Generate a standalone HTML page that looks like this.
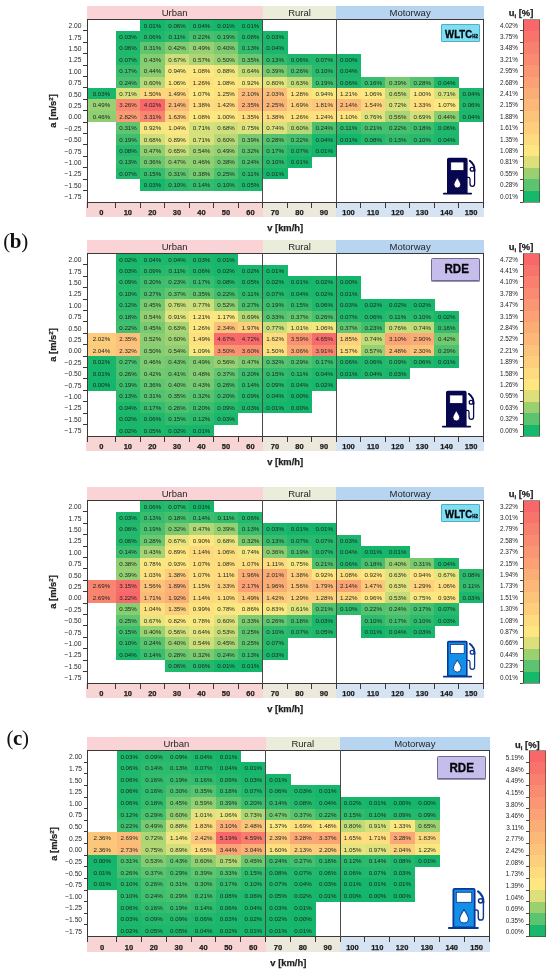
<!DOCTYPE html>
<html><head><meta charset="utf-8"><title>Figure</title><style>
html,body{margin:0;padding:0;background:#fff}
body{width:550px;height:975px;position:relative;overflow:hidden;font-family:"Liberation Sans",sans-serif;color:#2b2b2b}
.ch{position:absolute;left:0;width:550px;height:245px}
.ch div{position:absolute;box-sizing:border-box}
.hd{text-align:center;font-size:9.5px;color:#262626}
.c{text-align:center;font-size:6.2px;color:#1c241e;white-space:nowrap;overflow:hidden}
.ln{background:#3d3838}
.sep{background:#4c4a46}
.ln2{background:#5a4a3a}
.yl{width:31.5px;text-align:right;font-size:6.7px;line-height:9px;color:#262626}
.xl{-webkit-text-stroke:0.25px currentColor;width:30px;text-align:center;font-size:7.5px;font-weight:bold;line-height:9px;color:#1c1c1c}
.xt{-webkit-text-stroke:0.25px currentColor;width:80px;text-align:center;font-size:9.4px;font-weight:bold;line-height:12px;color:#222}
.yt{-webkit-text-stroke:0.25px currentColor;width:80px;height:12px;text-align:center;font-size:9.4px;font-weight:bold;line-height:12px;color:#222;transform:rotate(-90deg)}
.yt sup{font-size:6px;line-height:0;vertical-align:3.2px}
.lt{-webkit-text-stroke:0.25px currentColor;width:60px;text-align:center;font-size:9.4px;font-weight:bold;line-height:12px;color:#222}
.lt sub{font-size:6px;line-height:0;vertical-align:-1.5px}
.ll{width:30px;text-align:right;font-size:6.4px;line-height:8px;color:#262626}
.lb{border:1px solid rgba(70,55,30,.55);border-left-color:rgba(60,45,25,.75)}
.bw{background:#7fdff0;border:1px solid #52aec2;border-radius:1px;text-align:center;overflow:hidden}
.bt{display:inline-block;position:relative;top:-1.3px;left:-0.2px;font-weight:bold;font-size:11.4px;color:#05050c;-webkit-text-stroke:0.35px #05050c;transform:scaleX(.84);transform-origin:50% 50%;white-space:nowrap}
.bs{font-size:5.2px;vertical-align:-0.3px;margin-left:0.3px}
.br{background:#c6bdea;border:1px solid #6f6a94;border-radius:1.5px;text-align:center;box-shadow:0 1px 0 #9a94b8}
.bt2{display:inline-block;position:relative;top:-2.4px;left:0.8px;font-weight:bold;font-size:13px;color:#05050c;-webkit-text-stroke:0.35px #05050c;transform:scaleX(.89);white-space:nowrap}
.pm{position:absolute;overflow:visible}
.cap{position:absolute;letter-spacing:-0.35px;font-family:"Liberation Serif",serif;font-size:21px;line-height:22px;color:#111;white-space:nowrap}
.cap b{font-weight:bold}
</style></head><body>
<div class="ch" style="top:0px">
<div class="hd" style="left:86.50px;top:6.0px;width:176.22px;height:13.50px;line-height:14.10px;background:#f9d3d6">Urban</div>
<div class="hd" style="left:262.72px;top:6.0px;width:73.56px;height:13.50px;line-height:14.10px;background:#e9edda">Rural</div>
<div class="hd" style="left:336.28px;top:6.0px;width:147.62px;height:13.50px;line-height:14.10px;background:#b7d5f1">Motorway</div>
<div class="st" style="left:86.00px;top:202.00px;width:176.72px;height:15.20px;background:#f8d5d5"></div>
<div class="st" style="left:262.72px;top:202.00px;width:73.56px;height:15.20px;background:#ece8dc"></div>
<div class="st" style="left:336.28px;top:202.00px;width:147.62px;height:15.20px;background:#d6e3f2"></div>
<div class="grid">
<div class="c" style="left:140.12px;top:19.50px;width:24.82px;height:11.71px;line-height:12.01px;background:#14b66c">0.01%</div>
<div class="c" style="left:164.64px;top:19.50px;width:24.82px;height:11.71px;line-height:12.01px;background:#20b86d">0.06%</div>
<div class="c" style="left:189.16px;top:19.50px;width:24.82px;height:11.71px;line-height:12.01px;background:#1bb76c">0.04%</div>
<div class="c" style="left:213.68px;top:19.50px;width:24.82px;height:11.71px;line-height:12.01px;background:#14b66c">0.01%</div>
<div class="c" style="left:238.20px;top:19.50px;width:24.82px;height:11.71px;line-height:12.01px;background:#14b66c">0.01%</div>
<div class="c" style="left:115.60px;top:30.91px;width:24.82px;height:11.71px;line-height:12.01px;background:#19b76c">0.03%</div>
<div class="c" style="left:140.12px;top:30.91px;width:24.82px;height:11.71px;line-height:12.01px;background:#20b86d">0.06%</div>
<div class="c" style="left:164.64px;top:30.91px;width:24.82px;height:11.71px;line-height:12.01px;background:#2cbb6d">0.11%</div>
<div class="c" style="left:189.16px;top:30.91px;width:24.82px;height:11.71px;line-height:12.01px;background:#46c06e">0.22%</div>
<div class="c" style="left:213.68px;top:30.91px;width:24.82px;height:11.71px;line-height:12.01px;background:#3fbf6e">0.19%</div>
<div class="c" style="left:238.20px;top:30.91px;width:24.82px;height:11.71px;line-height:12.01px;background:#25b96d">0.08%</div>
<div class="c" style="left:262.72px;top:30.91px;width:24.82px;height:11.71px;line-height:12.01px;background:#19b76c">0.03%</div>
<div class="c" style="left:115.60px;top:42.31px;width:24.82px;height:11.71px;line-height:12.01px;background:#20b86d">0.06%</div>
<div class="c" style="left:140.12px;top:42.31px;width:24.82px;height:11.71px;line-height:12.01px;background:#5fc56f">0.31%</div>
<div class="c" style="left:164.64px;top:42.31px;width:24.82px;height:11.71px;line-height:12.01px;background:#82cc71">0.42%</div>
<div class="c" style="left:189.16px;top:42.31px;width:24.82px;height:11.71px;line-height:12.01px;background:#97d173">0.49%</div>
<div class="c" style="left:213.68px;top:42.31px;width:24.82px;height:11.71px;line-height:12.01px;background:#7ccb71">0.40%</div>
<div class="c" style="left:238.20px;top:42.31px;width:24.82px;height:11.71px;line-height:12.01px;background:#31bc6d">0.13%</div>
<div class="c" style="left:262.72px;top:42.31px;width:24.82px;height:11.71px;line-height:12.01px;background:#1bb76c">0.04%</div>
<div class="c" style="left:115.60px;top:53.72px;width:24.82px;height:11.71px;line-height:12.01px;background:#22b96d">0.07%</div>
<div class="c" style="left:140.12px;top:53.72px;width:24.82px;height:11.71px;line-height:12.01px;background:#85cd71">0.43%</div>
<div class="c" style="left:164.64px;top:53.72px;width:24.82px;height:11.71px;line-height:12.01px;background:#ccde7a">0.67%</div>
<div class="c" style="left:189.16px;top:53.72px;width:24.82px;height:11.71px;line-height:12.01px;background:#aed675">0.57%</div>
<div class="c" style="left:213.68px;top:53.72px;width:24.82px;height:11.71px;line-height:12.01px;background:#9ad173">0.50%</div>
<div class="c" style="left:238.20px;top:53.72px;width:24.82px;height:11.71px;line-height:12.01px;background:#6cc870">0.35%</div>
<div class="c" style="left:262.72px;top:53.72px;width:24.82px;height:11.71px;line-height:12.01px;background:#31bc6d">0.13%</div>
<div class="c" style="left:287.24px;top:53.72px;width:24.82px;height:11.71px;line-height:12.01px;background:#20b86d">0.06%</div>
<div class="c" style="left:311.76px;top:53.72px;width:24.82px;height:11.71px;line-height:12.01px;background:#22b96d">0.07%</div>
<div class="c" style="left:336.28px;top:53.72px;width:24.82px;height:11.71px;line-height:12.01px;background:#14b66c">0.00%</div>
<div class="c" style="left:115.60px;top:65.12px;width:24.82px;height:11.71px;line-height:12.01px;background:#3abe6e">0.17%</div>
<div class="c" style="left:140.12px;top:65.12px;width:24.82px;height:11.71px;line-height:12.01px;background:#89cd71">0.44%</div>
<div class="c" style="left:164.64px;top:65.12px;width:24.82px;height:11.71px;line-height:12.01px;background:#f7e882">0.94%</div>
<div class="c" style="left:189.16px;top:65.12px;width:24.82px;height:11.71px;line-height:12.01px;background:#fce781">1.08%</div>
<div class="c" style="left:213.68px;top:65.12px;width:24.82px;height:11.71px;line-height:12.01px;background:#efe680">0.88%</div>
<div class="c" style="left:238.20px;top:65.12px;width:24.82px;height:11.71px;line-height:12.01px;background:#c3dc78">0.64%</div>
<div class="c" style="left:262.72px;top:65.12px;width:24.82px;height:11.71px;line-height:12.01px;background:#79ca70">0.39%</div>
<div class="c" style="left:287.24px;top:65.12px;width:24.82px;height:11.71px;line-height:12.01px;background:#50c26f">0.26%</div>
<div class="c" style="left:311.76px;top:65.12px;width:24.82px;height:11.71px;line-height:12.01px;background:#2aba6d">0.10%</div>
<div class="c" style="left:336.28px;top:65.12px;width:24.82px;height:11.71px;line-height:12.01px;background:#1bb76c">0.04%</div>
<div class="c" style="left:115.60px;top:76.53px;width:24.82px;height:11.71px;line-height:12.01px;background:#4bc16f">0.24%</div>
<div class="c" style="left:140.12px;top:76.53px;width:24.82px;height:11.71px;line-height:12.01px;background:#b7d876">0.60%</div>
<div class="c" style="left:164.64px;top:76.53px;width:24.82px;height:11.71px;line-height:12.01px;background:#fce781">1.06%</div>
<div class="c" style="left:189.16px;top:76.53px;width:24.82px;height:11.71px;line-height:12.01px;background:#fee07f">1.26%</div>
<div class="c" style="left:213.68px;top:76.53px;width:24.82px;height:11.71px;line-height:12.01px;background:#fce781">1.08%</div>
<div class="c" style="left:238.20px;top:76.53px;width:24.82px;height:11.71px;line-height:12.01px;background:#f4e781">0.92%</div>
<div class="c" style="left:262.72px;top:76.53px;width:24.82px;height:11.71px;line-height:12.01px;background:#e3e47e">0.80%</div>
<div class="c" style="left:287.24px;top:76.53px;width:24.82px;height:11.71px;line-height:12.01px;background:#c0db78">0.63%</div>
<div class="c" style="left:311.76px;top:76.53px;width:24.82px;height:11.71px;line-height:12.01px;background:#3fbf6e">0.19%</div>
<div class="c" style="left:336.28px;top:76.53px;width:24.82px;height:11.71px;line-height:12.01px;background:#20b86d">0.06%</div>
<div class="c" style="left:360.80px;top:76.53px;width:24.82px;height:11.71px;line-height:12.01px;background:#38bd6e">0.16%</div>
<div class="c" style="left:385.32px;top:76.53px;width:24.82px;height:11.71px;line-height:12.01px;background:#79ca70">0.39%</div>
<div class="c" style="left:409.84px;top:76.53px;width:24.82px;height:11.71px;line-height:12.01px;background:#55c36f">0.28%</div>
<div class="c" style="left:434.36px;top:76.53px;width:24.82px;height:11.71px;line-height:12.01px;background:#1bb76c">0.04%</div>
<div class="c" style="left:87.00px;top:87.94px;width:28.90px;height:11.71px;line-height:12.01px;background:#19b76c">0.03%</div>
<div class="c" style="left:115.60px;top:87.94px;width:24.82px;height:11.71px;line-height:12.01px;background:#d7e17c">0.71%</div>
<div class="c" style="left:140.12px;top:87.94px;width:24.82px;height:11.71px;line-height:12.01px;background:#fdd67d">1.50%</div>
<div class="c" style="left:164.64px;top:87.94px;width:24.82px;height:11.71px;line-height:12.01px;background:#fdd67d">1.49%</div>
<div class="c" style="left:189.16px;top:87.94px;width:24.82px;height:11.71px;line-height:12.01px;background:#fce781">1.07%</div>
<div class="c" style="left:213.68px;top:87.94px;width:24.82px;height:11.71px;line-height:12.01px;background:#fee17f">1.25%</div>
<div class="c" style="left:238.20px;top:87.94px;width:24.82px;height:11.71px;line-height:12.01px;background:#fcbc79">2.10%</div>
<div class="c" style="left:262.72px;top:87.94px;width:24.82px;height:11.71px;line-height:12.01px;background:#fcbf79">2.03%</div>
<div class="c" style="left:287.24px;top:87.94px;width:24.82px;height:11.71px;line-height:12.01px;background:#fee07f">1.28%</div>
<div class="c" style="left:311.76px;top:87.94px;width:24.82px;height:11.71px;line-height:12.01px;background:#f7e882">0.94%</div>
<div class="c" style="left:336.28px;top:87.94px;width:24.82px;height:11.71px;line-height:12.01px;background:#fee37f">1.21%</div>
<div class="c" style="left:360.80px;top:87.94px;width:24.82px;height:11.71px;line-height:12.01px;background:#fce781">1.06%</div>
<div class="c" style="left:385.32px;top:87.94px;width:24.82px;height:11.71px;line-height:12.01px;background:#c6dc79">0.65%</div>
<div class="c" style="left:409.84px;top:87.94px;width:24.82px;height:11.71px;line-height:12.01px;background:#fae781">1.00%</div>
<div class="c" style="left:434.36px;top:87.94px;width:24.82px;height:11.71px;line-height:12.01px;background:#d7e17c">0.71%</div>
<div class="c" style="left:458.88px;top:87.94px;width:24.82px;height:11.71px;line-height:12.01px;background:#1bb76c">0.04%</div>
<div class="c" style="left:87.00px;top:99.34px;width:28.90px;height:11.71px;line-height:12.01px;background:#97d173">0.49%</div>
<div class="c" style="left:115.60px;top:99.34px;width:24.82px;height:11.71px;line-height:12.01px;background:#fa8971">3.26%</div>
<div class="c" style="left:140.12px;top:99.34px;width:24.82px;height:11.71px;line-height:12.01px;background:#f8686b">4.02%</div>
<div class="c" style="left:164.64px;top:99.34px;width:24.82px;height:11.71px;line-height:12.01px;background:#fcba79">2.14%</div>
<div class="c" style="left:189.16px;top:99.34px;width:24.82px;height:11.71px;line-height:12.01px;background:#fddb7e">1.38%</div>
<div class="c" style="left:213.68px;top:99.34px;width:24.82px;height:11.71px;line-height:12.01px;background:#fdd97e">1.42%</div>
<div class="c" style="left:238.20px;top:99.34px;width:24.82px;height:11.71px;line-height:12.01px;background:#fbb177">2.35%</div>
<div class="c" style="left:262.72px;top:99.34px;width:24.82px;height:11.71px;line-height:12.01px;background:#fcb578">2.25%</div>
<div class="c" style="left:287.24px;top:99.34px;width:24.82px;height:11.71px;line-height:12.01px;background:#fdce7c">1.69%</div>
<div class="c" style="left:311.76px;top:99.34px;width:24.82px;height:11.71px;line-height:12.01px;background:#fdc87b">1.81%</div>
<div class="c" style="left:336.28px;top:99.34px;width:24.82px;height:11.71px;line-height:12.01px;background:#fcba79">2.14%</div>
<div class="c" style="left:360.80px;top:99.34px;width:24.82px;height:11.71px;line-height:12.01px;background:#fdd47d">1.54%</div>
<div class="c" style="left:385.32px;top:99.34px;width:24.82px;height:11.71px;line-height:12.01px;background:#d8e17c">0.72%</div>
<div class="c" style="left:409.84px;top:99.34px;width:24.82px;height:11.71px;line-height:12.01px;background:#fedd7f">1.33%</div>
<div class="c" style="left:434.36px;top:99.34px;width:24.82px;height:11.71px;line-height:12.01px;background:#fce781">1.07%</div>
<div class="c" style="left:458.88px;top:99.34px;width:24.82px;height:11.71px;line-height:12.01px;background:#20b86d">0.06%</div>
<div class="c" style="left:87.00px;top:110.75px;width:28.90px;height:11.71px;line-height:12.01px;background:#8ecf72">0.46%</div>
<div class="c" style="left:115.60px;top:110.75px;width:24.82px;height:11.71px;line-height:12.01px;background:#fa9c74">2.82%</div>
<div class="c" style="left:140.12px;top:110.75px;width:24.82px;height:11.71px;line-height:12.01px;background:#f98770">3.31%</div>
<div class="c" style="left:164.64px;top:110.75px;width:24.82px;height:11.71px;line-height:12.01px;background:#fdd07c">1.63%</div>
<div class="c" style="left:189.16px;top:110.75px;width:24.82px;height:11.71px;line-height:12.01px;background:#fce781">1.08%</div>
<div class="c" style="left:213.68px;top:110.75px;width:24.82px;height:11.71px;line-height:12.01px;background:#fae781">1.00%</div>
<div class="c" style="left:238.20px;top:110.75px;width:24.82px;height:11.71px;line-height:12.01px;background:#fedd7e">1.35%</div>
<div class="c" style="left:262.72px;top:110.75px;width:24.82px;height:11.71px;line-height:12.01px;background:#fddb7e">1.38%</div>
<div class="c" style="left:287.24px;top:110.75px;width:24.82px;height:11.71px;line-height:12.01px;background:#fee07f">1.26%</div>
<div class="c" style="left:311.76px;top:110.75px;width:24.82px;height:11.71px;line-height:12.01px;background:#fee17f">1.24%</div>
<div class="c" style="left:336.28px;top:110.75px;width:24.82px;height:11.71px;line-height:12.01px;background:#fde680">1.10%</div>
<div class="c" style="left:360.80px;top:110.75px;width:24.82px;height:11.71px;line-height:12.01px;background:#dee37d">0.76%</div>
<div class="c" style="left:385.32px;top:110.75px;width:24.82px;height:11.71px;line-height:12.01px;background:#abd575">0.56%</div>
<div class="c" style="left:409.84px;top:110.75px;width:24.82px;height:11.71px;line-height:12.01px;background:#d1e07b">0.69%</div>
<div class="c" style="left:434.36px;top:110.75px;width:24.82px;height:11.71px;line-height:12.01px;background:#89cd71">0.44%</div>
<div class="c" style="left:458.88px;top:110.75px;width:24.82px;height:11.71px;line-height:12.01px;background:#1bb76c">0.04%</div>
<div class="c" style="left:115.60px;top:122.15px;width:24.82px;height:11.71px;line-height:12.01px;background:#5fc56f">0.31%</div>
<div class="c" style="left:140.12px;top:122.15px;width:24.82px;height:11.71px;line-height:12.01px;background:#f4e781">0.92%</div>
<div class="c" style="left:164.64px;top:122.15px;width:24.82px;height:11.71px;line-height:12.01px;background:#fbe781">1.04%</div>
<div class="c" style="left:189.16px;top:122.15px;width:24.82px;height:11.71px;line-height:12.01px;background:#d7e17c">0.71%</div>
<div class="c" style="left:213.68px;top:122.15px;width:24.82px;height:11.71px;line-height:12.01px;background:#cedf7b">0.68%</div>
<div class="c" style="left:238.20px;top:122.15px;width:24.82px;height:11.71px;line-height:12.01px;background:#dce27d">0.75%</div>
<div class="c" style="left:262.72px;top:122.15px;width:24.82px;height:11.71px;line-height:12.01px;background:#dbe27d">0.74%</div>
<div class="c" style="left:287.24px;top:122.15px;width:24.82px;height:11.71px;line-height:12.01px;background:#b7d876">0.60%</div>
<div class="c" style="left:311.76px;top:122.15px;width:24.82px;height:11.71px;line-height:12.01px;background:#4bc16f">0.24%</div>
<div class="c" style="left:336.28px;top:122.15px;width:24.82px;height:11.71px;line-height:12.01px;background:#2cbb6d">0.11%</div>
<div class="c" style="left:360.80px;top:122.15px;width:24.82px;height:11.71px;line-height:12.01px;background:#44c06e">0.21%</div>
<div class="c" style="left:385.32px;top:122.15px;width:24.82px;height:11.71px;line-height:12.01px;background:#46c06e">0.22%</div>
<div class="c" style="left:409.84px;top:122.15px;width:24.82px;height:11.71px;line-height:12.01px;background:#3dbe6e">0.18%</div>
<div class="c" style="left:434.36px;top:122.15px;width:24.82px;height:11.71px;line-height:12.01px;background:#20b86d">0.06%</div>
<div class="c" style="left:115.60px;top:133.56px;width:24.82px;height:11.71px;line-height:12.01px;background:#3fbf6e">0.19%</div>
<div class="c" style="left:140.12px;top:133.56px;width:24.82px;height:11.71px;line-height:12.01px;background:#cedf7b">0.68%</div>
<div class="c" style="left:164.64px;top:133.56px;width:24.82px;height:11.71px;line-height:12.01px;background:#f0e681">0.89%</div>
<div class="c" style="left:189.16px;top:133.56px;width:24.82px;height:11.71px;line-height:12.01px;background:#d7e17c">0.71%</div>
<div class="c" style="left:213.68px;top:133.56px;width:24.82px;height:11.71px;line-height:12.01px;background:#b7d876">0.60%</div>
<div class="c" style="left:238.20px;top:133.56px;width:24.82px;height:11.71px;line-height:12.01px;background:#79ca70">0.39%</div>
<div class="c" style="left:262.72px;top:133.56px;width:24.82px;height:11.71px;line-height:12.01px;background:#55c36f">0.28%</div>
<div class="c" style="left:287.24px;top:133.56px;width:24.82px;height:11.71px;line-height:12.01px;background:#46c06e">0.22%</div>
<div class="c" style="left:311.76px;top:133.56px;width:24.82px;height:11.71px;line-height:12.01px;background:#1bb76c">0.04%</div>
<div class="c" style="left:336.28px;top:133.56px;width:24.82px;height:11.71px;line-height:12.01px;background:#14b66c">0.01%</div>
<div class="c" style="left:360.80px;top:133.56px;width:24.82px;height:11.71px;line-height:12.01px;background:#25b96d">0.08%</div>
<div class="c" style="left:385.32px;top:133.56px;width:24.82px;height:11.71px;line-height:12.01px;background:#31bc6d">0.13%</div>
<div class="c" style="left:409.84px;top:133.56px;width:24.82px;height:11.71px;line-height:12.01px;background:#2aba6d">0.10%</div>
<div class="c" style="left:434.36px;top:133.56px;width:24.82px;height:11.71px;line-height:12.01px;background:#1bb76c">0.04%</div>
<div class="c" style="left:115.60px;top:144.97px;width:24.82px;height:11.71px;line-height:12.01px;background:#25b96d">0.08%</div>
<div class="c" style="left:140.12px;top:144.97px;width:24.82px;height:11.71px;line-height:12.01px;background:#91cf72">0.47%</div>
<div class="c" style="left:164.64px;top:144.97px;width:24.82px;height:11.71px;line-height:12.01px;background:#c6dc79">0.65%</div>
<div class="c" style="left:189.16px;top:144.97px;width:24.82px;height:11.71px;line-height:12.01px;background:#a5d474">0.54%</div>
<div class="c" style="left:213.68px;top:144.97px;width:24.82px;height:11.71px;line-height:12.01px;background:#97d173">0.49%</div>
<div class="c" style="left:238.20px;top:144.97px;width:24.82px;height:11.71px;line-height:12.01px;background:#62c670">0.32%</div>
<div class="c" style="left:262.72px;top:144.97px;width:24.82px;height:11.71px;line-height:12.01px;background:#3abe6e">0.17%</div>
<div class="c" style="left:287.24px;top:144.97px;width:24.82px;height:11.71px;line-height:12.01px;background:#22b96d">0.07%</div>
<div class="c" style="left:311.76px;top:144.97px;width:24.82px;height:11.71px;line-height:12.01px;background:#14b66c">0.01%</div>
<div class="c" style="left:115.60px;top:156.37px;width:24.82px;height:11.71px;line-height:12.01px;background:#31bc6d">0.13%</div>
<div class="c" style="left:140.12px;top:156.37px;width:24.82px;height:11.71px;line-height:12.01px;background:#6fc870">0.36%</div>
<div class="c" style="left:164.64px;top:156.37px;width:24.82px;height:11.71px;line-height:12.01px;background:#91cf72">0.47%</div>
<div class="c" style="left:189.16px;top:156.37px;width:24.82px;height:11.71px;line-height:12.01px;background:#8ecf72">0.46%</div>
<div class="c" style="left:213.68px;top:156.37px;width:24.82px;height:11.71px;line-height:12.01px;background:#75c970">0.38%</div>
<div class="c" style="left:238.20px;top:156.37px;width:24.82px;height:11.71px;line-height:12.01px;background:#4bc16f">0.24%</div>
<div class="c" style="left:262.72px;top:156.37px;width:24.82px;height:11.71px;line-height:12.01px;background:#2aba6d">0.10%</div>
<div class="c" style="left:287.24px;top:156.37px;width:24.82px;height:11.71px;line-height:12.01px;background:#14b66c">0.01%</div>
<div class="c" style="left:115.60px;top:167.78px;width:24.82px;height:11.71px;line-height:12.01px;background:#22b96d">0.07%</div>
<div class="c" style="left:140.12px;top:167.78px;width:24.82px;height:11.71px;line-height:12.01px;background:#36bd6e">0.15%</div>
<div class="c" style="left:164.64px;top:167.78px;width:24.82px;height:11.71px;line-height:12.01px;background:#5fc56f">0.31%</div>
<div class="c" style="left:189.16px;top:167.78px;width:24.82px;height:11.71px;line-height:12.01px;background:#75c970">0.38%</div>
<div class="c" style="left:213.68px;top:167.78px;width:24.82px;height:11.71px;line-height:12.01px;background:#4dc26f">0.25%</div>
<div class="c" style="left:238.20px;top:167.78px;width:24.82px;height:11.71px;line-height:12.01px;background:#2cbb6d">0.11%</div>
<div class="c" style="left:262.72px;top:167.78px;width:24.82px;height:11.71px;line-height:12.01px;background:#14b66c">0.01%</div>
<div class="c" style="left:140.12px;top:179.18px;width:24.82px;height:11.71px;line-height:12.01px;background:#19b76c">0.03%</div>
<div class="c" style="left:164.64px;top:179.18px;width:24.82px;height:11.71px;line-height:12.01px;background:#2aba6d">0.10%</div>
<div class="c" style="left:189.16px;top:179.18px;width:24.82px;height:11.71px;line-height:12.01px;background:#33bc6d">0.14%</div>
<div class="c" style="left:213.68px;top:179.18px;width:24.82px;height:11.71px;line-height:12.01px;background:#2aba6d">0.10%</div>
<div class="c" style="left:238.20px;top:179.18px;width:24.82px;height:11.71px;line-height:12.01px;background:#1eb86c">0.05%</div>
</div>
<div class="ln" style="left:86.50px;top:19.00px;width:397.40px;height:1px"></div>
<div class="ln" style="left:86.50px;top:201.50px;width:397.40px;height:1px"></div>
<div class="ln" style="left:86.50px;top:19.00px;width:1px;height:183.50px"></div>
<div class="ln sep" style="left:262.22px;top:19.00px;width:1px;height:183.50px"></div>
<div class="ln sep" style="left:335.78px;top:19.00px;width:1px;height:183.50px"></div>
<div class="ln" style="left:482.90px;top:19.00px;width:1px;height:183.50px"></div>
<div class="yl" style="top:21.10px;left:50.00px">2.00</div>
<div class="ln" style="left:83.00px;top:30.41px;width:4px;height:1px"></div>
<div class="yl" style="top:32.51px;left:50.00px">1.75</div>
<div class="ln" style="left:83.00px;top:41.81px;width:4px;height:1px"></div>
<div class="yl" style="top:43.91px;left:50.00px">1.50</div>
<div class="ln" style="left:83.00px;top:53.22px;width:4px;height:1px"></div>
<div class="yl" style="top:55.32px;left:50.00px">1.25</div>
<div class="ln" style="left:83.00px;top:64.62px;width:4px;height:1px"></div>
<div class="yl" style="top:66.73px;left:50.00px">1.00</div>
<div class="ln" style="left:83.00px;top:76.03px;width:4px;height:1px"></div>
<div class="yl" style="top:78.13px;left:50.00px">0.75</div>
<div class="ln" style="left:83.00px;top:87.44px;width:4px;height:1px"></div>
<div class="yl" style="top:89.54px;left:50.00px">0.50</div>
<div class="ln" style="left:83.00px;top:98.84px;width:4px;height:1px"></div>
<div class="yl" style="top:100.95px;left:50.00px">0.25</div>
<div class="ln" style="left:83.00px;top:110.25px;width:4px;height:1px"></div>
<div class="yl" style="top:112.35px;left:50.00px">0.00</div>
<div class="ln" style="left:83.00px;top:121.65px;width:4px;height:1px"></div>
<div class="yl" style="top:123.76px;left:50.00px">−0.25</div>
<div class="ln" style="left:83.00px;top:133.06px;width:4px;height:1px"></div>
<div class="yl" style="top:135.16px;left:50.00px">−0.50</div>
<div class="ln" style="left:83.00px;top:144.47px;width:4px;height:1px"></div>
<div class="yl" style="top:146.57px;left:50.00px">−0.75</div>
<div class="ln" style="left:83.00px;top:155.87px;width:4px;height:1px"></div>
<div class="yl" style="top:157.98px;left:50.00px">−1.00</div>
<div class="ln" style="left:83.00px;top:167.28px;width:4px;height:1px"></div>
<div class="yl" style="top:169.38px;left:50.00px">−1.25</div>
<div class="ln" style="left:83.00px;top:178.68px;width:4px;height:1px"></div>
<div class="yl" style="top:180.79px;left:50.00px">−1.50</div>
<div class="ln" style="left:83.00px;top:190.09px;width:4px;height:1px"></div>
<div class="yl" style="top:192.19px;left:50.00px">−1.75</div>
<div class="xl" style="left:86.30px;top:208.20px">0</div>
<div class="ln" style="left:86.50px;top:202.00px;width:1px;height:5.5px"></div>
<div class="xl" style="left:112.86px;top:208.20px">10</div>
<div class="ln" style="left:115.10px;top:202.00px;width:1px;height:5.5px"></div>
<div class="xl" style="left:137.38px;top:208.20px">20</div>
<div class="ln" style="left:139.62px;top:202.00px;width:1px;height:5.5px"></div>
<div class="xl" style="left:161.90px;top:208.20px">30</div>
<div class="ln" style="left:164.14px;top:202.00px;width:1px;height:5.5px"></div>
<div class="xl" style="left:186.42px;top:208.20px">40</div>
<div class="ln" style="left:188.66px;top:202.00px;width:1px;height:5.5px"></div>
<div class="xl" style="left:210.94px;top:208.20px">50</div>
<div class="ln" style="left:213.18px;top:202.00px;width:1px;height:5.5px"></div>
<div class="xl" style="left:235.46px;top:208.20px">60</div>
<div class="ln" style="left:237.70px;top:202.00px;width:1px;height:5.5px"></div>
<div class="xl" style="left:259.98px;top:208.20px">70</div>
<div class="ln" style="left:262.22px;top:202.00px;width:1px;height:5.5px"></div>
<div class="xl" style="left:284.50px;top:208.20px">80</div>
<div class="ln" style="left:286.74px;top:202.00px;width:1px;height:5.5px"></div>
<div class="xl" style="left:309.02px;top:208.20px">90</div>
<div class="ln" style="left:311.26px;top:202.00px;width:1px;height:5.5px"></div>
<div class="xl" style="left:333.54px;top:208.20px">100</div>
<div class="ln" style="left:335.78px;top:202.00px;width:1px;height:5.5px"></div>
<div class="xl" style="left:358.06px;top:208.20px">110</div>
<div class="ln" style="left:360.30px;top:202.00px;width:1px;height:5.5px"></div>
<div class="xl" style="left:382.58px;top:208.20px">120</div>
<div class="ln" style="left:384.82px;top:202.00px;width:1px;height:5.5px"></div>
<div class="xl" style="left:407.10px;top:208.20px">130</div>
<div class="ln" style="left:409.34px;top:202.00px;width:1px;height:5.5px"></div>
<div class="xl" style="left:431.62px;top:208.20px">140</div>
<div class="ln" style="left:433.86px;top:202.00px;width:1px;height:5.5px"></div>
<div class="xl" style="left:456.14px;top:208.20px">150</div>
<div class="ln" style="left:458.38px;top:202.00px;width:1px;height:5.5px"></div>
<div class="ln" style="left:482.90px;top:202.00px;width:1px;height:5.5px"></div>
<div class="xt" style="left:245.20px;top:222.00px">v [km/h]</div>
<div class="yt" style="left:13.00px;top:104.75px">a [m/s<sup>2</sup>]</div>
<div class="lt" style="left:491.00px;top:7.00px">u<sub>i</sub> [%]</div>
<div style="position:absolute;left:523.00px;top:19.50px;width:16.80px;height:11.71px;background:#f8686b"></div>
<div class="ll" style="left:488.00px;top:21.60px">4.02%</div>
<div class="ln2" style="left:520.00px;top:30.41px;width:3px;height:1px"></div>
<div style="position:absolute;left:523.00px;top:30.91px;width:16.80px;height:11.71px;background:#f9736d"></div>
<div class="ll" style="left:488.00px;top:33.01px">3.75%</div>
<div class="ln2" style="left:520.00px;top:41.81px;width:3px;height:1px"></div>
<div style="position:absolute;left:523.00px;top:42.31px;width:16.80px;height:11.71px;background:#f97f6f"></div>
<div class="ll" style="left:488.00px;top:44.41px">3.48%</div>
<div class="ln2" style="left:520.00px;top:53.22px;width:3px;height:1px"></div>
<div style="position:absolute;left:523.00px;top:53.72px;width:16.80px;height:11.71px;background:#fa8a71"></div>
<div class="ll" style="left:488.00px;top:55.82px">3.21%</div>
<div class="ln2" style="left:520.00px;top:64.62px;width:3px;height:1px"></div>
<div style="position:absolute;left:523.00px;top:65.12px;width:16.80px;height:11.71px;background:#fa9673"></div>
<div class="ll" style="left:488.00px;top:67.23px">2.95%</div>
<div class="ln2" style="left:520.00px;top:76.03px;width:3px;height:1px"></div>
<div style="position:absolute;left:523.00px;top:76.53px;width:16.80px;height:11.71px;background:#fba175"></div>
<div class="ll" style="left:488.00px;top:78.63px">2.68%</div>
<div class="ln2" style="left:520.00px;top:87.44px;width:3px;height:1px"></div>
<div style="position:absolute;left:523.00px;top:87.94px;width:16.80px;height:11.71px;background:#fbad76"></div>
<div class="ll" style="left:488.00px;top:90.04px">2.41%</div>
<div class="ln2" style="left:520.00px;top:98.84px;width:3px;height:1px"></div>
<div style="position:absolute;left:523.00px;top:99.34px;width:16.80px;height:11.71px;background:#fcb878"></div>
<div class="ll" style="left:488.00px;top:101.45px">2.15%</div>
<div class="ln2" style="left:520.00px;top:110.25px;width:3px;height:1px"></div>
<div style="position:absolute;left:523.00px;top:110.75px;width:16.80px;height:11.71px;background:#fcc47a"></div>
<div class="ll" style="left:488.00px;top:112.85px">1.88%</div>
<div class="ln2" style="left:520.00px;top:121.65px;width:3px;height:1px"></div>
<div style="position:absolute;left:523.00px;top:122.15px;width:16.80px;height:11.71px;background:#fdcf7c"></div>
<div class="ll" style="left:488.00px;top:124.26px">1.61%</div>
<div class="ln2" style="left:520.00px;top:133.06px;width:3px;height:1px"></div>
<div style="position:absolute;left:523.00px;top:133.56px;width:16.80px;height:11.71px;background:#fddb7e"></div>
<div class="ll" style="left:488.00px;top:135.66px">1.35%</div>
<div class="ln2" style="left:520.00px;top:144.47px;width:3px;height:1px"></div>
<div style="position:absolute;left:523.00px;top:144.97px;width:16.80px;height:11.71px;background:#fee680"></div>
<div class="ll" style="left:488.00px;top:147.07px">1.08%</div>
<div class="ln2" style="left:520.00px;top:155.87px;width:3px;height:1px"></div>
<div style="position:absolute;left:523.00px;top:156.37px;width:16.80px;height:11.71px;background:#dde07a"></div>
<div class="ll" style="left:488.00px;top:158.48px">0.81%</div>
<div class="ln2" style="left:520.00px;top:167.28px;width:3px;height:1px"></div>
<div style="position:absolute;left:523.00px;top:167.78px;width:16.80px;height:11.71px;background:#9ad070"></div>
<div class="ll" style="left:488.00px;top:169.88px">0.55%</div>
<div class="ln2" style="left:520.00px;top:178.68px;width:3px;height:1px"></div>
<div style="position:absolute;left:523.00px;top:179.18px;width:16.80px;height:11.71px;background:#5cc470"></div>
<div class="ll" style="left:488.00px;top:181.29px">0.28%</div>
<div class="ln2" style="left:520.00px;top:190.09px;width:3px;height:1px"></div>
<div style="position:absolute;left:523.00px;top:190.59px;width:16.80px;height:11.71px;background:#18b86c"></div>
<div class="ll" style="left:488.00px;top:192.69px">0.01%</div>
<div class="ln2" style="left:520.00px;top:201.50px;width:3px;height:1px"></div>
<div class="lb" style="left:522.50px;top:19.00px;width:17.80px;height:183.70px"></div>
<div class="bw" style="left:441px;top:24px;width:39px;height:18.4px;line-height:18.4px"><span class="bt">WLTC<span class="bs">H2</span></span></div>
<svg class="pm" style="left:442.6px;top:156.2px" width="34.0" height="40.0" viewBox="-4 -2 34 40">
<path d="M0.8 1.6 Q0.8 0.6 1.8 0.6 L18.8 0.6 Q19.8 0.6 19.8 1.6 L19.8 35 L0.8 35 Z" fill="#07074f" stroke="#07074f" stroke-width="1.6"/>
<rect x="3.7" y="4.0" width="13.2" height="8.4" fill="#fff" stroke="#07074f" stroke-width="0.8"/>
<path d="M10.3 19.6 C8.6 22.6 6.9 24.6 6.9 26.6 A3.4 3.4 0 0 0 13.7 26.6 C13.7 24.6 12 22.6 10.3 19.6 Z" fill="#fff" stroke="#07074f" stroke-width="0.9"/>
<path d="M-3.2 35.6 L24.2 35.6" stroke="#07074f" stroke-width="1.8" stroke-linecap="round"/>
<path d="M20 19.4 L21.3 19.4 Q23 19.4 23 21.2 L23 25.8 Q23 28.4 25.3 28.4 Q27.6 28.4 27.6 25.8 L27.6 11.2" fill="none" stroke="#07074f" stroke-width="1.25"/>
<path d="M22.8 2.8 Q27.8 6.6 27.6 12.6" fill="none" stroke="#07074f" stroke-width="1.9" stroke-linecap="round"/>
<circle cx="25.1" cy="11.2" r="1.9" fill="#fff" stroke="#07074f" stroke-width="1.3"/>
</svg>
</div><div class="ch" style="top:234px">
<div class="hd" style="left:86.50px;top:6.0px;width:176.22px;height:13.50px;line-height:14.10px;background:#f9d3d6">Urban</div>
<div class="hd" style="left:262.72px;top:6.0px;width:73.56px;height:13.50px;line-height:14.10px;background:#e9edda">Rural</div>
<div class="hd" style="left:336.28px;top:6.0px;width:147.62px;height:13.50px;line-height:14.10px;background:#b7d5f1">Motorway</div>
<div class="st" style="left:86.00px;top:202.00px;width:176.72px;height:15.20px;background:#f8d5d5"></div>
<div class="st" style="left:262.72px;top:202.00px;width:73.56px;height:15.20px;background:#ece8dc"></div>
<div class="st" style="left:336.28px;top:202.00px;width:147.62px;height:15.20px;background:#d6e3f2"></div>
<div class="grid">
<div class="c" style="left:115.60px;top:19.50px;width:24.82px;height:11.71px;line-height:12.01px;background:#18b76c">0.02%</div>
<div class="c" style="left:140.12px;top:19.50px;width:24.82px;height:11.71px;line-height:12.01px;background:#1cb86c">0.04%</div>
<div class="c" style="left:164.64px;top:19.50px;width:24.82px;height:11.71px;line-height:12.01px;background:#1cb86c">0.04%</div>
<div class="c" style="left:189.16px;top:19.50px;width:24.82px;height:11.71px;line-height:12.01px;background:#1ab76c">0.03%</div>
<div class="c" style="left:213.68px;top:19.50px;width:24.82px;height:11.71px;line-height:12.01px;background:#16b66c">0.01%</div>
<div class="c" style="left:115.60px;top:30.91px;width:24.82px;height:11.71px;line-height:12.01px;background:#1ab76c">0.03%</div>
<div class="c" style="left:140.12px;top:30.91px;width:24.82px;height:11.71px;line-height:12.01px;background:#26ba6d">0.09%</div>
<div class="c" style="left:164.64px;top:30.91px;width:24.82px;height:11.71px;line-height:12.01px;background:#2abb6d">0.11%</div>
<div class="c" style="left:189.16px;top:30.91px;width:24.82px;height:11.71px;line-height:12.01px;background:#20b86d">0.06%</div>
<div class="c" style="left:213.68px;top:30.91px;width:24.82px;height:11.71px;line-height:12.01px;background:#18b76c">0.02%</div>
<div class="c" style="left:238.20px;top:30.91px;width:24.82px;height:11.71px;line-height:12.01px;background:#18b76c">0.02%</div>
<div class="c" style="left:262.72px;top:30.91px;width:24.82px;height:11.71px;line-height:12.01px;background:#16b66c">0.01%</div>
<div class="c" style="left:115.60px;top:42.31px;width:24.82px;height:11.71px;line-height:12.01px;background:#26ba6d">0.09%</div>
<div class="c" style="left:140.12px;top:42.31px;width:24.82px;height:11.71px;line-height:12.01px;background:#3dbe6e">0.20%</div>
<div class="c" style="left:164.64px;top:42.31px;width:24.82px;height:11.71px;line-height:12.01px;background:#43c06e">0.23%</div>
<div class="c" style="left:189.16px;top:42.31px;width:24.82px;height:11.71px;line-height:12.01px;background:#37bd6e">0.17%</div>
<div class="c" style="left:213.68px;top:42.31px;width:24.82px;height:11.71px;line-height:12.01px;background:#24b96d">0.08%</div>
<div class="c" style="left:238.20px;top:42.31px;width:24.82px;height:11.71px;line-height:12.01px;background:#1eb86c">0.05%</div>
<div class="c" style="left:262.72px;top:42.31px;width:24.82px;height:11.71px;line-height:12.01px;background:#18b76c">0.02%</div>
<div class="c" style="left:287.24px;top:42.31px;width:24.82px;height:11.71px;line-height:12.01px;background:#16b66c">0.01%</div>
<div class="c" style="left:311.76px;top:42.31px;width:24.82px;height:11.71px;line-height:12.01px;background:#18b76c">0.02%</div>
<div class="c" style="left:336.28px;top:42.31px;width:24.82px;height:11.71px;line-height:12.01px;background:#14b66c">0.00%</div>
<div class="c" style="left:115.60px;top:53.72px;width:24.82px;height:11.71px;line-height:12.01px;background:#28ba6d">0.10%</div>
<div class="c" style="left:140.12px;top:53.72px;width:24.82px;height:11.71px;line-height:12.01px;background:#4bc16f">0.27%</div>
<div class="c" style="left:164.64px;top:53.72px;width:24.82px;height:11.71px;line-height:12.01px;background:#63c670">0.37%</div>
<div class="c" style="left:189.16px;top:53.72px;width:24.82px;height:11.71px;line-height:12.01px;background:#5ec56f">0.35%</div>
<div class="c" style="left:213.68px;top:53.72px;width:24.82px;height:11.71px;line-height:12.01px;background:#41bf6e">0.22%</div>
<div class="c" style="left:238.20px;top:53.72px;width:24.82px;height:11.71px;line-height:12.01px;background:#2abb6d">0.11%</div>
<div class="c" style="left:262.72px;top:53.72px;width:24.82px;height:11.71px;line-height:12.01px;background:#22b96d">0.07%</div>
<div class="c" style="left:287.24px;top:53.72px;width:24.82px;height:11.71px;line-height:12.01px;background:#1cb86c">0.04%</div>
<div class="c" style="left:311.76px;top:53.72px;width:24.82px;height:11.71px;line-height:12.01px;background:#18b76c">0.02%</div>
<div class="c" style="left:336.28px;top:53.72px;width:24.82px;height:11.71px;line-height:12.01px;background:#16b66c">0.01%</div>
<div class="c" style="left:115.60px;top:65.12px;width:24.82px;height:11.71px;line-height:12.01px;background:#2cbb6d">0.12%</div>
<div class="c" style="left:140.12px;top:65.12px;width:24.82px;height:11.71px;line-height:12.01px;background:#79ca70">0.45%</div>
<div class="c" style="left:164.64px;top:65.12px;width:24.82px;height:11.71px;line-height:12.01px;background:#c7dd79">0.76%</div>
<div class="c" style="left:189.16px;top:65.12px;width:24.82px;height:11.71px;line-height:12.01px;background:#cade7a">0.77%</div>
<div class="c" style="left:213.68px;top:65.12px;width:24.82px;height:11.71px;line-height:12.01px;background:#8cce71">0.52%</div>
<div class="c" style="left:238.20px;top:65.12px;width:24.82px;height:11.71px;line-height:12.01px;background:#4bc16f">0.27%</div>
<div class="c" style="left:262.72px;top:65.12px;width:24.82px;height:11.71px;line-height:12.01px;background:#3bbe6e">0.19%</div>
<div class="c" style="left:287.24px;top:65.12px;width:24.82px;height:11.71px;line-height:12.01px;background:#33bc6d">0.15%</div>
<div class="c" style="left:311.76px;top:65.12px;width:24.82px;height:11.71px;line-height:12.01px;background:#20b86d">0.06%</div>
<div class="c" style="left:336.28px;top:65.12px;width:24.82px;height:11.71px;line-height:12.01px;background:#1ab76c">0.03%</div>
<div class="c" style="left:360.80px;top:65.12px;width:24.82px;height:11.71px;line-height:12.01px;background:#18b76c">0.02%</div>
<div class="c" style="left:385.32px;top:65.12px;width:24.82px;height:11.71px;line-height:12.01px;background:#18b76c">0.02%</div>
<div class="c" style="left:409.84px;top:65.12px;width:24.82px;height:11.71px;line-height:12.01px;background:#18b76c">0.02%</div>
<div class="c" style="left:115.60px;top:76.53px;width:24.82px;height:11.71px;line-height:12.01px;background:#39bd6e">0.18%</div>
<div class="c" style="left:140.12px;top:76.53px;width:24.82px;height:11.71px;line-height:12.01px;background:#91cf72">0.54%</div>
<div class="c" style="left:164.64px;top:76.53px;width:24.82px;height:11.71px;line-height:12.01px;background:#e1e37e">0.91%</div>
<div class="c" style="left:189.16px;top:76.53px;width:24.82px;height:11.71px;line-height:12.01px;background:#fbe781">1.21%</div>
<div class="c" style="left:213.68px;top:76.53px;width:24.82px;height:11.71px;line-height:12.01px;background:#fae781">1.17%</div>
<div class="c" style="left:238.20px;top:76.53px;width:24.82px;height:11.71px;line-height:12.01px;background:#b5d876">0.69%</div>
<div class="c" style="left:262.72px;top:76.53px;width:24.82px;height:11.71px;line-height:12.01px;background:#58c46f">0.33%</div>
<div class="c" style="left:287.24px;top:76.53px;width:24.82px;height:11.71px;line-height:12.01px;background:#63c670">0.37%</div>
<div class="c" style="left:311.76px;top:76.53px;width:24.82px;height:11.71px;line-height:12.01px;background:#49c16e">0.26%</div>
<div class="c" style="left:336.28px;top:76.53px;width:24.82px;height:11.71px;line-height:12.01px;background:#22b96d">0.07%</div>
<div class="c" style="left:360.80px;top:76.53px;width:24.82px;height:11.71px;line-height:12.01px;background:#20b86d">0.06%</div>
<div class="c" style="left:385.32px;top:76.53px;width:24.82px;height:11.71px;line-height:12.01px;background:#2abb6d">0.11%</div>
<div class="c" style="left:409.84px;top:76.53px;width:24.82px;height:11.71px;line-height:12.01px;background:#28ba6d">0.10%</div>
<div class="c" style="left:434.36px;top:76.53px;width:24.82px;height:11.71px;line-height:12.01px;background:#18b76c">0.02%</div>
<div class="c" style="left:115.60px;top:87.94px;width:24.82px;height:11.71px;line-height:12.01px;background:#41bf6e">0.22%</div>
<div class="c" style="left:140.12px;top:87.94px;width:24.82px;height:11.71px;line-height:12.01px;background:#79ca70">0.45%</div>
<div class="c" style="left:164.64px;top:87.94px;width:24.82px;height:11.71px;line-height:12.01px;background:#a7d474">0.63%</div>
<div class="c" style="left:189.16px;top:87.94px;width:24.82px;height:11.71px;line-height:12.01px;background:#fce781">1.26%</div>
<div class="c" style="left:213.68px;top:87.94px;width:24.82px;height:11.71px;line-height:12.01px;background:#fcc07a">2.34%</div>
<div class="c" style="left:238.20px;top:87.94px;width:24.82px;height:11.71px;line-height:12.01px;background:#fdce7c">1.97%</div>
<div class="c" style="left:262.72px;top:87.94px;width:24.82px;height:11.71px;line-height:12.01px;background:#cade7a">0.77%</div>
<div class="c" style="left:287.24px;top:87.94px;width:24.82px;height:11.71px;line-height:12.01px;background:#ede680">1.01%</div>
<div class="c" style="left:311.76px;top:87.94px;width:24.82px;height:11.71px;line-height:12.01px;background:#f3e781">1.06%</div>
<div class="c" style="left:336.28px;top:87.94px;width:24.82px;height:11.71px;line-height:12.01px;background:#63c670">0.37%</div>
<div class="c" style="left:360.80px;top:87.94px;width:24.82px;height:11.71px;line-height:12.01px;background:#43c06e">0.23%</div>
<div class="c" style="left:385.32px;top:87.94px;width:24.82px;height:11.71px;line-height:12.01px;background:#c7dd79">0.76%</div>
<div class="c" style="left:409.84px;top:87.94px;width:24.82px;height:11.71px;line-height:12.01px;background:#c2db78">0.74%</div>
<div class="c" style="left:434.36px;top:87.94px;width:24.82px;height:11.71px;line-height:12.01px;background:#35bd6e">0.16%</div>
<div class="c" style="left:87.00px;top:99.34px;width:28.90px;height:11.71px;line-height:12.01px;background:#fdcc7c">2.02%</div>
<div class="c" style="left:115.60px;top:99.34px;width:24.82px;height:11.71px;line-height:12.01px;background:#fcc07a">2.35%</div>
<div class="c" style="left:140.12px;top:99.34px;width:24.82px;height:11.71px;line-height:12.01px;background:#8cce71">0.52%</div>
<div class="c" style="left:164.64px;top:99.34px;width:24.82px;height:11.71px;line-height:12.01px;background:#a0d374">0.60%</div>
<div class="c" style="left:189.16px;top:99.34px;width:24.82px;height:11.71px;line-height:12.01px;background:#fee07f">1.49%</div>
<div class="c" style="left:213.68px;top:99.34px;width:24.82px;height:11.71px;line-height:12.01px;background:#f86a6b">4.67%</div>
<div class="c" style="left:238.20px;top:99.34px;width:24.82px;height:11.71px;line-height:12.01px;background:#f8686b">4.72%</div>
<div class="c" style="left:262.72px;top:99.34px;width:24.82px;height:11.71px;line-height:12.01px;background:#fddb7e">1.62%</div>
<div class="c" style="left:287.24px;top:99.34px;width:24.82px;height:11.71px;line-height:12.01px;background:#fa9272">3.59%</div>
<div class="c" style="left:311.76px;top:99.34px;width:24.82px;height:11.71px;line-height:12.01px;background:#f86b6b">4.65%</div>
<div class="c" style="left:336.28px;top:99.34px;width:24.82px;height:11.71px;line-height:12.01px;background:#fdd27d">1.85%</div>
<div class="c" style="left:360.80px;top:99.34px;width:24.82px;height:11.71px;line-height:12.01px;background:#c2db78">0.74%</div>
<div class="c" style="left:385.32px;top:99.34px;width:24.82px;height:11.71px;line-height:12.01px;background:#fba475">3.10%</div>
<div class="c" style="left:409.84px;top:99.34px;width:24.82px;height:11.71px;line-height:12.01px;background:#fbab76">2.90%</div>
<div class="c" style="left:434.36px;top:99.34px;width:24.82px;height:11.71px;line-height:12.01px;background:#71c970">0.42%</div>
<div class="c" style="left:87.00px;top:110.75px;width:28.90px;height:11.71px;line-height:12.01px;background:#fdcb7c">2.04%</div>
<div class="c" style="left:115.60px;top:110.75px;width:24.82px;height:11.71px;line-height:12.01px;background:#fcc17a">2.32%</div>
<div class="c" style="left:140.12px;top:110.75px;width:24.82px;height:11.71px;line-height:12.01px;background:#87cd71">0.50%</div>
<div class="c" style="left:164.64px;top:110.75px;width:24.82px;height:11.71px;line-height:12.01px;background:#91cf72">0.54%</div>
<div class="c" style="left:189.16px;top:110.75px;width:24.82px;height:11.71px;line-height:12.01px;background:#f7e882">1.09%</div>
<div class="c" style="left:213.68px;top:110.75px;width:24.82px;height:11.71px;line-height:12.01px;background:#fa9573">3.50%</div>
<div class="c" style="left:238.20px;top:110.75px;width:24.82px;height:11.71px;line-height:12.01px;background:#fa9272">3.60%</div>
<div class="c" style="left:262.72px;top:110.75px;width:24.82px;height:11.71px;line-height:12.01px;background:#fedf7f">1.50%</div>
<div class="c" style="left:287.24px;top:110.75px;width:24.82px;height:11.71px;line-height:12.01px;background:#fba675">3.06%</div>
<div class="c" style="left:311.76px;top:110.75px;width:24.82px;height:11.71px;line-height:12.01px;background:#f98670">3.91%</div>
<div class="c" style="left:336.28px;top:110.75px;width:24.82px;height:11.71px;line-height:12.01px;background:#fedd7e">1.57%</div>
<div class="c" style="left:360.80px;top:110.75px;width:24.82px;height:11.71px;line-height:12.01px;background:#98d173">0.57%</div>
<div class="c" style="left:385.32px;top:110.75px;width:24.82px;height:11.71px;line-height:12.01px;background:#fcbb79">2.48%</div>
<div class="c" style="left:409.84px;top:110.75px;width:24.82px;height:11.71px;line-height:12.01px;background:#fcc27a">2.30%</div>
<div class="c" style="left:434.36px;top:110.75px;width:24.82px;height:11.71px;line-height:12.01px;background:#4fc26f">0.29%</div>
<div class="c" style="left:87.00px;top:122.15px;width:28.90px;height:11.71px;line-height:12.01px;background:#18b76c">0.02%</div>
<div class="c" style="left:115.60px;top:122.15px;width:24.82px;height:11.71px;line-height:12.01px;background:#4bc16f">0.27%</div>
<div class="c" style="left:140.12px;top:122.15px;width:24.82px;height:11.71px;line-height:12.01px;background:#7ccb71">0.46%</div>
<div class="c" style="left:164.64px;top:122.15px;width:24.82px;height:11.71px;line-height:12.01px;background:#74c970">0.43%</div>
<div class="c" style="left:189.16px;top:122.15px;width:24.82px;height:11.71px;line-height:12.01px;background:#84cc71">0.49%</div>
<div class="c" style="left:213.68px;top:122.15px;width:24.82px;height:11.71px;line-height:12.01px;background:#96d072">0.56%</div>
<div class="c" style="left:238.20px;top:122.15px;width:24.82px;height:11.71px;line-height:12.01px;background:#7fcb71">0.47%</div>
<div class="c" style="left:262.72px;top:122.15px;width:24.82px;height:11.71px;line-height:12.01px;background:#55c36f">0.32%</div>
<div class="c" style="left:287.24px;top:122.15px;width:24.82px;height:11.71px;line-height:12.01px;background:#4fc26f">0.29%</div>
<div class="c" style="left:311.76px;top:122.15px;width:24.82px;height:11.71px;line-height:12.01px;background:#37bd6e">0.17%</div>
<div class="c" style="left:336.28px;top:122.15px;width:24.82px;height:11.71px;line-height:12.01px;background:#20b86d">0.06%</div>
<div class="c" style="left:360.80px;top:122.15px;width:24.82px;height:11.71px;line-height:12.01px;background:#20b86d">0.06%</div>
<div class="c" style="left:385.32px;top:122.15px;width:24.82px;height:11.71px;line-height:12.01px;background:#26ba6d">0.09%</div>
<div class="c" style="left:409.84px;top:122.15px;width:24.82px;height:11.71px;line-height:12.01px;background:#20b86d">0.06%</div>
<div class="c" style="left:434.36px;top:122.15px;width:24.82px;height:11.71px;line-height:12.01px;background:#16b66c">0.01%</div>
<div class="c" style="left:87.00px;top:133.56px;width:28.90px;height:11.71px;line-height:12.01px;background:#16b66c">0.01%</div>
<div class="c" style="left:115.60px;top:133.56px;width:24.82px;height:11.71px;line-height:12.01px;background:#49c16e">0.26%</div>
<div class="c" style="left:140.12px;top:133.56px;width:24.82px;height:11.71px;line-height:12.01px;background:#71c970">0.42%</div>
<div class="c" style="left:164.64px;top:133.56px;width:24.82px;height:11.71px;line-height:12.01px;background:#6ec870">0.41%</div>
<div class="c" style="left:189.16px;top:133.56px;width:24.82px;height:11.71px;line-height:12.01px;background:#82cc71">0.48%</div>
<div class="c" style="left:213.68px;top:133.56px;width:24.82px;height:11.71px;line-height:12.01px;background:#63c670">0.37%</div>
<div class="c" style="left:238.20px;top:133.56px;width:24.82px;height:11.71px;line-height:12.01px;background:#3dbe6e">0.20%</div>
<div class="c" style="left:262.72px;top:133.56px;width:24.82px;height:11.71px;line-height:12.01px;background:#33bc6d">0.15%</div>
<div class="c" style="left:287.24px;top:133.56px;width:24.82px;height:11.71px;line-height:12.01px;background:#2abb6d">0.11%</div>
<div class="c" style="left:311.76px;top:133.56px;width:24.82px;height:11.71px;line-height:12.01px;background:#1cb86c">0.04%</div>
<div class="c" style="left:336.28px;top:133.56px;width:24.82px;height:11.71px;line-height:12.01px;background:#16b66c">0.01%</div>
<div class="c" style="left:360.80px;top:133.56px;width:24.82px;height:11.71px;line-height:12.01px;background:#1cb86c">0.04%</div>
<div class="c" style="left:385.32px;top:133.56px;width:24.82px;height:11.71px;line-height:12.01px;background:#1ab76c">0.03%</div>
<div class="c" style="left:87.00px;top:144.97px;width:28.90px;height:11.71px;line-height:12.01px;background:#14b66c">0.00%</div>
<div class="c" style="left:115.60px;top:144.97px;width:24.82px;height:11.71px;line-height:12.01px;background:#3bbe6e">0.19%</div>
<div class="c" style="left:140.12px;top:144.97px;width:24.82px;height:11.71px;line-height:12.01px;background:#60c56f">0.36%</div>
<div class="c" style="left:164.64px;top:144.97px;width:24.82px;height:11.71px;line-height:12.01px;background:#6cc870">0.40%</div>
<div class="c" style="left:189.16px;top:144.97px;width:24.82px;height:11.71px;line-height:12.01px;background:#74c970">0.43%</div>
<div class="c" style="left:213.68px;top:144.97px;width:24.82px;height:11.71px;line-height:12.01px;background:#49c16e">0.26%</div>
<div class="c" style="left:238.20px;top:144.97px;width:24.82px;height:11.71px;line-height:12.01px;background:#30bc6d">0.14%</div>
<div class="c" style="left:262.72px;top:144.97px;width:24.82px;height:11.71px;line-height:12.01px;background:#26ba6d">0.09%</div>
<div class="c" style="left:287.24px;top:144.97px;width:24.82px;height:11.71px;line-height:12.01px;background:#1cb86c">0.04%</div>
<div class="c" style="left:311.76px;top:144.97px;width:24.82px;height:11.71px;line-height:12.01px;background:#18b76c">0.02%</div>
<div class="c" style="left:115.60px;top:156.37px;width:24.82px;height:11.71px;line-height:12.01px;background:#2ebb6d">0.13%</div>
<div class="c" style="left:140.12px;top:156.37px;width:24.82px;height:11.71px;line-height:12.01px;background:#53c36f">0.31%</div>
<div class="c" style="left:164.64px;top:156.37px;width:24.82px;height:11.71px;line-height:12.01px;background:#5ec56f">0.35%</div>
<div class="c" style="left:189.16px;top:156.37px;width:24.82px;height:11.71px;line-height:12.01px;background:#55c36f">0.32%</div>
<div class="c" style="left:213.68px;top:156.37px;width:24.82px;height:11.71px;line-height:12.01px;background:#3dbe6e">0.20%</div>
<div class="c" style="left:238.20px;top:156.37px;width:24.82px;height:11.71px;line-height:12.01px;background:#26ba6d">0.09%</div>
<div class="c" style="left:262.72px;top:156.37px;width:24.82px;height:11.71px;line-height:12.01px;background:#1cb86c">0.04%</div>
<div class="c" style="left:287.24px;top:156.37px;width:24.82px;height:11.71px;line-height:12.01px;background:#14b66c">0.00%</div>
<div class="c" style="left:115.60px;top:167.78px;width:24.82px;height:11.71px;line-height:12.01px;background:#1cb86c">0.04%</div>
<div class="c" style="left:140.12px;top:167.78px;width:24.82px;height:11.71px;line-height:12.01px;background:#37bd6e">0.17%</div>
<div class="c" style="left:164.64px;top:167.78px;width:24.82px;height:11.71px;line-height:12.01px;background:#49c16e">0.26%</div>
<div class="c" style="left:189.16px;top:167.78px;width:24.82px;height:11.71px;line-height:12.01px;background:#3dbe6e">0.20%</div>
<div class="c" style="left:213.68px;top:167.78px;width:24.82px;height:11.71px;line-height:12.01px;background:#26ba6d">0.09%</div>
<div class="c" style="left:238.20px;top:167.78px;width:24.82px;height:11.71px;line-height:12.01px;background:#1ab76c">0.03%</div>
<div class="c" style="left:262.72px;top:167.78px;width:24.82px;height:11.71px;line-height:12.01px;background:#16b66c">0.01%</div>
<div class="c" style="left:287.24px;top:167.78px;width:24.82px;height:11.71px;line-height:12.01px;background:#14b66c">0.00%</div>
<div class="c" style="left:115.60px;top:179.18px;width:24.82px;height:11.71px;line-height:12.01px;background:#18b76c">0.02%</div>
<div class="c" style="left:140.12px;top:179.18px;width:24.82px;height:11.71px;line-height:12.01px;background:#20b86d">0.06%</div>
<div class="c" style="left:164.64px;top:179.18px;width:24.82px;height:11.71px;line-height:12.01px;background:#33bc6d">0.15%</div>
<div class="c" style="left:189.16px;top:179.18px;width:24.82px;height:11.71px;line-height:12.01px;background:#2cbb6d">0.12%</div>
<div class="c" style="left:213.68px;top:179.18px;width:24.82px;height:11.71px;line-height:12.01px;background:#1ab76c">0.03%</div>
<div class="c" style="left:115.60px;top:190.59px;width:24.82px;height:11.71px;line-height:12.01px;background:#18b76c">0.02%</div>
<div class="c" style="left:140.12px;top:190.59px;width:24.82px;height:11.71px;line-height:12.01px;background:#1eb86c">0.05%</div>
<div class="c" style="left:164.64px;top:190.59px;width:24.82px;height:11.71px;line-height:12.01px;background:#18b76c">0.02%</div>
<div class="c" style="left:189.16px;top:190.59px;width:24.82px;height:11.71px;line-height:12.01px;background:#16b66c">0.01%</div>
</div>
<div class="ln" style="left:86.50px;top:19.00px;width:397.40px;height:1px"></div>
<div class="ln" style="left:86.50px;top:201.50px;width:397.40px;height:1px"></div>
<div class="ln" style="left:86.50px;top:19.00px;width:1px;height:183.50px"></div>
<div class="ln sep" style="left:262.22px;top:19.00px;width:1px;height:183.50px"></div>
<div class="ln sep" style="left:335.78px;top:19.00px;width:1px;height:183.50px"></div>
<div class="ln" style="left:482.90px;top:19.00px;width:1px;height:183.50px"></div>
<div class="yl" style="top:21.10px;left:50.00px">2.00</div>
<div class="ln" style="left:83.00px;top:30.41px;width:4px;height:1px"></div>
<div class="yl" style="top:32.51px;left:50.00px">1.75</div>
<div class="ln" style="left:83.00px;top:41.81px;width:4px;height:1px"></div>
<div class="yl" style="top:43.91px;left:50.00px">1.50</div>
<div class="ln" style="left:83.00px;top:53.22px;width:4px;height:1px"></div>
<div class="yl" style="top:55.32px;left:50.00px">1.25</div>
<div class="ln" style="left:83.00px;top:64.62px;width:4px;height:1px"></div>
<div class="yl" style="top:66.73px;left:50.00px">1.00</div>
<div class="ln" style="left:83.00px;top:76.03px;width:4px;height:1px"></div>
<div class="yl" style="top:78.13px;left:50.00px">0.75</div>
<div class="ln" style="left:83.00px;top:87.44px;width:4px;height:1px"></div>
<div class="yl" style="top:89.54px;left:50.00px">0.50</div>
<div class="ln" style="left:83.00px;top:98.84px;width:4px;height:1px"></div>
<div class="yl" style="top:100.95px;left:50.00px">0.25</div>
<div class="ln" style="left:83.00px;top:110.25px;width:4px;height:1px"></div>
<div class="yl" style="top:112.35px;left:50.00px">0.00</div>
<div class="ln" style="left:83.00px;top:121.65px;width:4px;height:1px"></div>
<div class="yl" style="top:123.76px;left:50.00px">−0.25</div>
<div class="ln" style="left:83.00px;top:133.06px;width:4px;height:1px"></div>
<div class="yl" style="top:135.16px;left:50.00px">−0.50</div>
<div class="ln" style="left:83.00px;top:144.47px;width:4px;height:1px"></div>
<div class="yl" style="top:146.57px;left:50.00px">−0.75</div>
<div class="ln" style="left:83.00px;top:155.87px;width:4px;height:1px"></div>
<div class="yl" style="top:157.98px;left:50.00px">−1.00</div>
<div class="ln" style="left:83.00px;top:167.28px;width:4px;height:1px"></div>
<div class="yl" style="top:169.38px;left:50.00px">−1.25</div>
<div class="ln" style="left:83.00px;top:178.68px;width:4px;height:1px"></div>
<div class="yl" style="top:180.79px;left:50.00px">−1.50</div>
<div class="ln" style="left:83.00px;top:190.09px;width:4px;height:1px"></div>
<div class="yl" style="top:192.19px;left:50.00px">−1.75</div>
<div class="xl" style="left:86.30px;top:208.20px">0</div>
<div class="ln" style="left:86.50px;top:202.00px;width:1px;height:5.5px"></div>
<div class="xl" style="left:112.86px;top:208.20px">10</div>
<div class="ln" style="left:115.10px;top:202.00px;width:1px;height:5.5px"></div>
<div class="xl" style="left:137.38px;top:208.20px">20</div>
<div class="ln" style="left:139.62px;top:202.00px;width:1px;height:5.5px"></div>
<div class="xl" style="left:161.90px;top:208.20px">30</div>
<div class="ln" style="left:164.14px;top:202.00px;width:1px;height:5.5px"></div>
<div class="xl" style="left:186.42px;top:208.20px">40</div>
<div class="ln" style="left:188.66px;top:202.00px;width:1px;height:5.5px"></div>
<div class="xl" style="left:210.94px;top:208.20px">50</div>
<div class="ln" style="left:213.18px;top:202.00px;width:1px;height:5.5px"></div>
<div class="xl" style="left:235.46px;top:208.20px">60</div>
<div class="ln" style="left:237.70px;top:202.00px;width:1px;height:5.5px"></div>
<div class="xl" style="left:259.98px;top:208.20px">70</div>
<div class="ln" style="left:262.22px;top:202.00px;width:1px;height:5.5px"></div>
<div class="xl" style="left:284.50px;top:208.20px">80</div>
<div class="ln" style="left:286.74px;top:202.00px;width:1px;height:5.5px"></div>
<div class="xl" style="left:309.02px;top:208.20px">90</div>
<div class="ln" style="left:311.26px;top:202.00px;width:1px;height:5.5px"></div>
<div class="xl" style="left:333.54px;top:208.20px">100</div>
<div class="ln" style="left:335.78px;top:202.00px;width:1px;height:5.5px"></div>
<div class="xl" style="left:358.06px;top:208.20px">110</div>
<div class="ln" style="left:360.30px;top:202.00px;width:1px;height:5.5px"></div>
<div class="xl" style="left:382.58px;top:208.20px">120</div>
<div class="ln" style="left:384.82px;top:202.00px;width:1px;height:5.5px"></div>
<div class="xl" style="left:407.10px;top:208.20px">130</div>
<div class="ln" style="left:409.34px;top:202.00px;width:1px;height:5.5px"></div>
<div class="xl" style="left:431.62px;top:208.20px">140</div>
<div class="ln" style="left:433.86px;top:202.00px;width:1px;height:5.5px"></div>
<div class="xl" style="left:456.14px;top:208.20px">150</div>
<div class="ln" style="left:458.38px;top:202.00px;width:1px;height:5.5px"></div>
<div class="ln" style="left:482.90px;top:202.00px;width:1px;height:5.5px"></div>
<div class="xt" style="left:245.20px;top:222.00px">v [km/h]</div>
<div class="yt" style="left:13.00px;top:104.75px">a [m/s<sup>2</sup>]</div>
<div class="lt" style="left:491.00px;top:7.00px">u<sub>i</sub> [%]</div>
<div style="position:absolute;left:523.00px;top:19.50px;width:16.80px;height:11.71px;background:#f8686b"></div>
<div class="ll" style="left:488.00px;top:21.60px">4.72%</div>
<div class="ln2" style="left:520.00px;top:30.41px;width:3px;height:1px"></div>
<div style="position:absolute;left:523.00px;top:30.91px;width:16.80px;height:11.71px;background:#f9736d"></div>
<div class="ll" style="left:488.00px;top:33.01px">4.41%</div>
<div class="ln2" style="left:520.00px;top:41.81px;width:3px;height:1px"></div>
<div style="position:absolute;left:523.00px;top:42.31px;width:16.80px;height:11.71px;background:#f97f6f"></div>
<div class="ll" style="left:488.00px;top:44.41px">4.10%</div>
<div class="ln2" style="left:520.00px;top:53.22px;width:3px;height:1px"></div>
<div style="position:absolute;left:523.00px;top:53.72px;width:16.80px;height:11.71px;background:#fa8a71"></div>
<div class="ll" style="left:488.00px;top:55.82px">3.78%</div>
<div class="ln2" style="left:520.00px;top:64.62px;width:3px;height:1px"></div>
<div style="position:absolute;left:523.00px;top:65.12px;width:16.80px;height:11.71px;background:#fa9673"></div>
<div class="ll" style="left:488.00px;top:67.23px">3.47%</div>
<div class="ln2" style="left:520.00px;top:76.03px;width:3px;height:1px"></div>
<div style="position:absolute;left:523.00px;top:76.53px;width:16.80px;height:11.71px;background:#fba175"></div>
<div class="ll" style="left:488.00px;top:78.63px">3.15%</div>
<div class="ln2" style="left:520.00px;top:87.44px;width:3px;height:1px"></div>
<div style="position:absolute;left:523.00px;top:87.94px;width:16.80px;height:11.71px;background:#fbad76"></div>
<div class="ll" style="left:488.00px;top:90.04px">2.84%</div>
<div class="ln2" style="left:520.00px;top:98.84px;width:3px;height:1px"></div>
<div style="position:absolute;left:523.00px;top:99.34px;width:16.80px;height:11.71px;background:#fcb878"></div>
<div class="ll" style="left:488.00px;top:101.45px">2.52%</div>
<div class="ln2" style="left:520.00px;top:110.25px;width:3px;height:1px"></div>
<div style="position:absolute;left:523.00px;top:110.75px;width:16.80px;height:11.71px;background:#fcc47a"></div>
<div class="ll" style="left:488.00px;top:112.85px">2.21%</div>
<div class="ln2" style="left:520.00px;top:121.65px;width:3px;height:1px"></div>
<div style="position:absolute;left:523.00px;top:122.15px;width:16.80px;height:11.71px;background:#fdcf7c"></div>
<div class="ll" style="left:488.00px;top:124.26px">1.89%</div>
<div class="ln2" style="left:520.00px;top:133.06px;width:3px;height:1px"></div>
<div style="position:absolute;left:523.00px;top:133.56px;width:16.80px;height:11.71px;background:#fddb7e"></div>
<div class="ll" style="left:488.00px;top:135.66px">1.58%</div>
<div class="ln2" style="left:520.00px;top:144.47px;width:3px;height:1px"></div>
<div style="position:absolute;left:523.00px;top:144.97px;width:16.80px;height:11.71px;background:#fee680"></div>
<div class="ll" style="left:488.00px;top:147.07px">1.26%</div>
<div class="ln2" style="left:520.00px;top:155.87px;width:3px;height:1px"></div>
<div style="position:absolute;left:523.00px;top:156.37px;width:16.80px;height:11.71px;background:#dde07a"></div>
<div class="ll" style="left:488.00px;top:158.48px">0.95%</div>
<div class="ln2" style="left:520.00px;top:167.28px;width:3px;height:1px"></div>
<div style="position:absolute;left:523.00px;top:167.78px;width:16.80px;height:11.71px;background:#9ad070"></div>
<div class="ll" style="left:488.00px;top:169.88px">0.63%</div>
<div class="ln2" style="left:520.00px;top:178.68px;width:3px;height:1px"></div>
<div style="position:absolute;left:523.00px;top:179.18px;width:16.80px;height:11.71px;background:#5cc470"></div>
<div class="ll" style="left:488.00px;top:181.29px">0.32%</div>
<div class="ln2" style="left:520.00px;top:190.09px;width:3px;height:1px"></div>
<div style="position:absolute;left:523.00px;top:190.59px;width:16.80px;height:11.71px;background:#18b86c"></div>
<div class="ll" style="left:488.00px;top:192.69px">0.00%</div>
<div class="ln2" style="left:520.00px;top:201.50px;width:3px;height:1px"></div>
<div class="lb" style="left:522.50px;top:19.00px;width:17.80px;height:183.70px"></div>
<div class="br" style="left:431.3px;top:23.6px;width:49px;height:23.5px;line-height:24.0px"><span class="bt2" style="margin-left:0px">RDE</span></div>
<svg class="pm" style="left:442.4px;top:154.9px" width="34.0" height="40.0" viewBox="-4 -2 34 40">
<path d="M0.8 1.6 Q0.8 0.6 1.8 0.6 L18.8 0.6 Q19.8 0.6 19.8 1.6 L19.8 35 L0.8 35 Z" fill="#07074f" stroke="#07074f" stroke-width="1.6"/>
<rect x="3.7" y="4.0" width="13.2" height="8.4" fill="#fff" stroke="#07074f" stroke-width="0.8"/>
<path d="M10.3 19.6 C8.6 22.6 6.9 24.6 6.9 26.6 A3.4 3.4 0 0 0 13.7 26.6 C13.7 24.6 12 22.6 10.3 19.6 Z" fill="#fff" stroke="#07074f" stroke-width="0.9"/>
<path d="M-3.2 35.6 L24.2 35.6" stroke="#07074f" stroke-width="1.8" stroke-linecap="round"/>
<path d="M20 19.4 L21.3 19.4 Q23 19.4 23 21.2 L23 25.8 Q23 28.4 25.3 28.4 Q27.6 28.4 27.6 25.8 L27.6 11.2" fill="none" stroke="#07074f" stroke-width="1.25"/>
<path d="M22.8 2.8 Q27.8 6.6 27.6 12.6" fill="none" stroke="#07074f" stroke-width="1.9" stroke-linecap="round"/>
<circle cx="25.1" cy="11.2" r="1.9" fill="#fff" stroke="#07074f" stroke-width="1.3"/>
</svg>
</div><div class="ch" style="top:481px">
<div class="hd" style="left:86.50px;top:6.0px;width:176.22px;height:13.50px;line-height:14.10px;background:#f9d3d6">Urban</div>
<div class="hd" style="left:262.72px;top:6.0px;width:73.56px;height:13.50px;line-height:14.10px;background:#e9edda">Rural</div>
<div class="hd" style="left:336.28px;top:6.0px;width:147.62px;height:13.50px;line-height:14.10px;background:#b7d5f1">Motorway</div>
<div class="st" style="left:86.00px;top:202.00px;width:176.72px;height:15.20px;background:#f8d5d5"></div>
<div class="st" style="left:262.72px;top:202.00px;width:73.56px;height:15.20px;background:#ece8dc"></div>
<div class="st" style="left:336.28px;top:202.00px;width:147.62px;height:15.20px;background:#d6e3f2"></div>
<div class="grid">
<div class="c" style="left:140.12px;top:19.50px;width:24.82px;height:11.71px;line-height:12.01px;background:#23b96d">0.06%</div>
<div class="c" style="left:164.64px;top:19.50px;width:24.82px;height:11.71px;line-height:12.01px;background:#26ba6d">0.07%</div>
<div class="c" style="left:189.16px;top:19.50px;width:24.82px;height:11.71px;line-height:12.01px;background:#14b66c">0.01%</div>
<div class="c" style="left:115.60px;top:30.91px;width:24.82px;height:11.71px;line-height:12.01px;background:#1ab76c">0.03%</div>
<div class="c" style="left:140.12px;top:30.91px;width:24.82px;height:11.71px;line-height:12.01px;background:#38bd6e">0.13%</div>
<div class="c" style="left:164.64px;top:30.91px;width:24.82px;height:11.71px;line-height:12.01px;background:#47c06e">0.18%</div>
<div class="c" style="left:189.16px;top:30.91px;width:24.82px;height:11.71px;line-height:12.01px;background:#3bbe6e">0.14%</div>
<div class="c" style="left:213.68px;top:30.91px;width:24.82px;height:11.71px;line-height:12.01px;background:#32bc6d">0.11%</div>
<div class="c" style="left:238.20px;top:30.91px;width:24.82px;height:11.71px;line-height:12.01px;background:#23b96d">0.06%</div>
<div class="c" style="left:115.60px;top:42.31px;width:24.82px;height:11.71px;line-height:12.01px;background:#23b96d">0.06%</div>
<div class="c" style="left:140.12px;top:42.31px;width:24.82px;height:11.71px;line-height:12.01px;background:#4ac16f">0.19%</div>
<div class="c" style="left:164.64px;top:42.31px;width:24.82px;height:11.71px;line-height:12.01px;background:#7bca70">0.32%</div>
<div class="c" style="left:189.16px;top:42.31px;width:24.82px;height:11.71px;line-height:12.01px;background:#b2d776">0.47%</div>
<div class="c" style="left:213.68px;top:42.31px;width:24.82px;height:11.71px;line-height:12.01px;background:#95d072">0.39%</div>
<div class="c" style="left:238.20px;top:42.31px;width:24.82px;height:11.71px;line-height:12.01px;background:#38bd6e">0.13%</div>
<div class="c" style="left:262.72px;top:42.31px;width:24.82px;height:11.71px;line-height:12.01px;background:#1ab76c">0.03%</div>
<div class="c" style="left:287.24px;top:42.31px;width:24.82px;height:11.71px;line-height:12.01px;background:#14b66c">0.01%</div>
<div class="c" style="left:311.76px;top:42.31px;width:24.82px;height:11.71px;line-height:12.01px;background:#14b66c">0.01%</div>
<div class="c" style="left:115.60px;top:53.72px;width:24.82px;height:11.71px;line-height:12.01px;background:#23b96d">0.06%</div>
<div class="c" style="left:140.12px;top:53.72px;width:24.82px;height:11.71px;line-height:12.01px;background:#6bc770">0.28%</div>
<div class="c" style="left:164.64px;top:53.72px;width:24.82px;height:11.71px;line-height:12.01px;background:#e8e57f">0.67%</div>
<div class="c" style="left:189.16px;top:53.72px;width:24.82px;height:11.71px;line-height:12.01px;background:#fee680">0.90%</div>
<div class="c" style="left:213.68px;top:53.72px;width:24.82px;height:11.71px;line-height:12.01px;background:#eae580">0.68%</div>
<div class="c" style="left:238.20px;top:53.72px;width:24.82px;height:11.71px;line-height:12.01px;background:#7bca70">0.32%</div>
<div class="c" style="left:262.72px;top:53.72px;width:24.82px;height:11.71px;line-height:12.01px;background:#38bd6e">0.13%</div>
<div class="c" style="left:287.24px;top:53.72px;width:24.82px;height:11.71px;line-height:12.01px;background:#26ba6d">0.07%</div>
<div class="c" style="left:311.76px;top:53.72px;width:24.82px;height:11.71px;line-height:12.01px;background:#26ba6d">0.07%</div>
<div class="c" style="left:336.28px;top:53.72px;width:24.82px;height:11.71px;line-height:12.01px;background:#1ab76c">0.03%</div>
<div class="c" style="left:115.60px;top:65.12px;width:24.82px;height:11.71px;line-height:12.01px;background:#3bbe6e">0.14%</div>
<div class="c" style="left:140.12px;top:65.12px;width:24.82px;height:11.71px;line-height:12.01px;background:#a4d474">0.43%</div>
<div class="c" style="left:164.64px;top:65.12px;width:24.82px;height:11.71px;line-height:12.01px;background:#fde680">0.89%</div>
<div class="c" style="left:189.16px;top:65.12px;width:24.82px;height:11.71px;line-height:12.01px;background:#fdd97e">1.14%</div>
<div class="c" style="left:213.68px;top:65.12px;width:24.82px;height:11.71px;line-height:12.01px;background:#fede7f">1.06%</div>
<div class="c" style="left:238.20px;top:65.12px;width:24.82px;height:11.71px;line-height:12.01px;background:#f5e781">0.74%</div>
<div class="c" style="left:262.72px;top:65.12px;width:24.82px;height:11.71px;line-height:12.01px;background:#8bce71">0.36%</div>
<div class="c" style="left:287.24px;top:65.12px;width:24.82px;height:11.71px;line-height:12.01px;background:#4ac16f">0.19%</div>
<div class="c" style="left:311.76px;top:65.12px;width:24.82px;height:11.71px;line-height:12.01px;background:#26ba6d">0.07%</div>
<div class="c" style="left:336.28px;top:65.12px;width:24.82px;height:11.71px;line-height:12.01px;background:#1db86c">0.04%</div>
<div class="c" style="left:360.80px;top:65.12px;width:24.82px;height:11.71px;line-height:12.01px;background:#14b66c">0.01%</div>
<div class="c" style="left:385.32px;top:65.12px;width:24.82px;height:11.71px;line-height:12.01px;background:#14b66c">0.01%</div>
<div class="c" style="left:115.60px;top:76.53px;width:24.82px;height:11.71px;line-height:12.01px;background:#92cf72">0.38%</div>
<div class="c" style="left:140.12px;top:76.53px;width:24.82px;height:11.71px;line-height:12.01px;background:#f9e882">0.78%</div>
<div class="c" style="left:164.64px;top:76.53px;width:24.82px;height:11.71px;line-height:12.01px;background:#fee580">0.93%</div>
<div class="c" style="left:189.16px;top:76.53px;width:24.82px;height:11.71px;line-height:12.01px;background:#fedd7f">1.07%</div>
<div class="c" style="left:213.68px;top:76.53px;width:24.82px;height:11.71px;line-height:12.01px;background:#fedd7e">1.08%</div>
<div class="c" style="left:238.20px;top:76.53px;width:24.82px;height:11.71px;line-height:12.01px;background:#fedd7f">1.07%</div>
<div class="c" style="left:262.72px;top:76.53px;width:24.82px;height:11.71px;line-height:12.01px;background:#fddb7e">1.11%</div>
<div class="c" style="left:287.24px;top:76.53px;width:24.82px;height:11.71px;line-height:12.01px;background:#f6e882">0.75%</div>
<div class="c" style="left:311.76px;top:76.53px;width:24.82px;height:11.71px;line-height:12.01px;background:#50c26f">0.21%</div>
<div class="c" style="left:336.28px;top:76.53px;width:24.82px;height:11.71px;line-height:12.01px;background:#23b96d">0.06%</div>
<div class="c" style="left:360.80px;top:76.53px;width:24.82px;height:11.71px;line-height:12.01px;background:#47c06e">0.18%</div>
<div class="c" style="left:385.32px;top:76.53px;width:24.82px;height:11.71px;line-height:12.01px;background:#99d173">0.40%</div>
<div class="c" style="left:409.84px;top:76.53px;width:24.82px;height:11.71px;line-height:12.01px;background:#77ca70">0.31%</div>
<div class="c" style="left:434.36px;top:76.53px;width:24.82px;height:11.71px;line-height:12.01px;background:#1db86c">0.04%</div>
<div class="c" style="left:115.60px;top:87.94px;width:24.82px;height:11.71px;line-height:12.01px;background:#95d072">0.39%</div>
<div class="c" style="left:140.12px;top:87.94px;width:24.82px;height:11.71px;line-height:12.01px;background:#fedf7f">1.03%</div>
<div class="c" style="left:164.64px;top:87.94px;width:24.82px;height:11.71px;line-height:12.01px;background:#fdcc7c">1.38%</div>
<div class="c" style="left:189.16px;top:87.94px;width:24.82px;height:11.71px;line-height:12.01px;background:#fedd7f">1.07%</div>
<div class="c" style="left:213.68px;top:87.94px;width:24.82px;height:11.71px;line-height:12.01px;background:#fddb7e">1.11%</div>
<div class="c" style="left:238.20px;top:87.94px;width:24.82px;height:11.71px;line-height:12.01px;background:#fbad76">1.96%</div>
<div class="c" style="left:262.72px;top:87.94px;width:24.82px;height:11.71px;line-height:12.01px;background:#fbaa76">2.01%</div>
<div class="c" style="left:287.24px;top:87.94px;width:24.82px;height:11.71px;line-height:12.01px;background:#fdcc7c">1.38%</div>
<div class="c" style="left:311.76px;top:87.94px;width:24.82px;height:11.71px;line-height:12.01px;background:#fee580">0.92%</div>
<div class="c" style="left:336.28px;top:87.94px;width:24.82px;height:11.71px;line-height:12.01px;background:#fedd7e">1.08%</div>
<div class="c" style="left:360.80px;top:87.94px;width:24.82px;height:11.71px;line-height:12.01px;background:#fee580">0.92%</div>
<div class="c" style="left:385.32px;top:87.94px;width:24.82px;height:11.71px;line-height:12.01px;background:#e1e37e">0.63%</div>
<div class="c" style="left:409.84px;top:87.94px;width:24.82px;height:11.71px;line-height:12.01px;background:#fee480">0.94%</div>
<div class="c" style="left:434.36px;top:87.94px;width:24.82px;height:11.71px;line-height:12.01px;background:#e8e57f">0.67%</div>
<div class="c" style="left:458.88px;top:87.94px;width:24.82px;height:11.71px;line-height:12.01px;background:#29ba6d">0.08%</div>
<div class="c" style="left:87.00px;top:99.34px;width:28.90px;height:11.71px;line-height:12.01px;background:#f98570">2.69%</div>
<div class="c" style="left:115.60px;top:99.34px;width:24.82px;height:11.71px;line-height:12.01px;background:#f86c6c">3.15%</div>
<div class="c" style="left:140.12px;top:99.34px;width:24.82px;height:11.71px;line-height:12.01px;background:#fcc27a">1.56%</div>
<div class="c" style="left:164.64px;top:99.34px;width:24.82px;height:11.71px;line-height:12.01px;background:#fbb177">1.89%</div>
<div class="c" style="left:189.16px;top:99.34px;width:24.82px;height:11.71px;line-height:12.01px;background:#fdd97e">1.15%</div>
<div class="c" style="left:213.68px;top:99.34px;width:24.82px;height:11.71px;line-height:12.01px;background:#fdcf7c">1.33%</div>
<div class="c" style="left:238.20px;top:99.34px;width:24.82px;height:11.71px;line-height:12.01px;background:#fba175">2.17%</div>
<div class="c" style="left:262.72px;top:99.34px;width:24.82px;height:11.71px;line-height:12.01px;background:#fbad76">1.96%</div>
<div class="c" style="left:287.24px;top:99.34px;width:24.82px;height:11.71px;line-height:12.01px;background:#fcc27a">1.56%</div>
<div class="c" style="left:311.76px;top:99.34px;width:24.82px;height:11.71px;line-height:12.01px;background:#fcb678">1.79%</div>
<div class="c" style="left:336.28px;top:99.34px;width:24.82px;height:11.71px;line-height:12.01px;background:#fba375">2.14%</div>
<div class="c" style="left:360.80px;top:99.34px;width:24.82px;height:11.71px;line-height:12.01px;background:#fdc77b">1.47%</div>
<div class="c" style="left:385.32px;top:99.34px;width:24.82px;height:11.71px;line-height:12.01px;background:#e1e37e">0.63%</div>
<div class="c" style="left:409.84px;top:99.34px;width:24.82px;height:11.71px;line-height:12.01px;background:#fdd17d">1.29%</div>
<div class="c" style="left:434.36px;top:99.34px;width:24.82px;height:11.71px;line-height:12.01px;background:#fede7f">1.06%</div>
<div class="c" style="left:458.88px;top:99.34px;width:24.82px;height:11.71px;line-height:12.01px;background:#32bc6d">0.11%</div>
<div class="c" style="left:87.00px;top:110.75px;width:28.90px;height:11.71px;line-height:12.01px;background:#f98570">2.69%</div>
<div class="c" style="left:115.60px;top:110.75px;width:24.82px;height:11.71px;line-height:12.01px;background:#f8686b">3.22%</div>
<div class="c" style="left:140.12px;top:110.75px;width:24.82px;height:11.71px;line-height:12.01px;background:#fcba79">1.71%</div>
<div class="c" style="left:164.64px;top:110.75px;width:24.82px;height:11.71px;line-height:12.01px;background:#fbaf77">1.92%</div>
<div class="c" style="left:189.16px;top:110.75px;width:24.82px;height:11.71px;line-height:12.01px;background:#fdd97e">1.14%</div>
<div class="c" style="left:213.68px;top:110.75px;width:24.82px;height:11.71px;line-height:12.01px;background:#fedc7e">1.10%</div>
<div class="c" style="left:238.20px;top:110.75px;width:24.82px;height:11.71px;line-height:12.01px;background:#fcc67b">1.49%</div>
<div class="c" style="left:262.72px;top:110.75px;width:24.82px;height:11.71px;line-height:12.01px;background:#fdca7b">1.42%</div>
<div class="c" style="left:287.24px;top:110.75px;width:24.82px;height:11.71px;line-height:12.01px;background:#fdd17d">1.29%</div>
<div class="c" style="left:311.76px;top:110.75px;width:24.82px;height:11.71px;line-height:12.01px;background:#fdd27d">1.28%</div>
<div class="c" style="left:336.28px;top:110.75px;width:24.82px;height:11.71px;line-height:12.01px;background:#fdd57d">1.22%</div>
<div class="c" style="left:360.80px;top:110.75px;width:24.82px;height:11.71px;line-height:12.01px;background:#fee380">0.96%</div>
<div class="c" style="left:385.32px;top:110.75px;width:24.82px;height:11.71px;line-height:12.01px;background:#c8dd79">0.53%</div>
<div class="c" style="left:409.84px;top:110.75px;width:24.82px;height:11.71px;line-height:12.01px;background:#f6e882">0.75%</div>
<div class="c" style="left:434.36px;top:110.75px;width:24.82px;height:11.71px;line-height:12.01px;background:#fee580">0.93%</div>
<div class="c" style="left:458.88px;top:110.75px;width:24.82px;height:11.71px;line-height:12.01px;background:#1ab76c">0.03%</div>
<div class="c" style="left:115.60px;top:122.15px;width:24.82px;height:11.71px;line-height:12.01px;background:#87cd71">0.35%</div>
<div class="c" style="left:140.12px;top:122.15px;width:24.82px;height:11.71px;line-height:12.01px;background:#fedf7f">1.04%</div>
<div class="c" style="left:164.64px;top:122.15px;width:24.82px;height:11.71px;line-height:12.01px;background:#fdce7c">1.35%</div>
<div class="c" style="left:189.16px;top:122.15px;width:24.82px;height:11.71px;line-height:12.01px;background:#fee27f">0.99%</div>
<div class="c" style="left:213.68px;top:122.15px;width:24.82px;height:11.71px;line-height:12.01px;background:#f9e882">0.78%</div>
<div class="c" style="left:238.20px;top:122.15px;width:24.82px;height:11.71px;line-height:12.01px;background:#fce781">0.86%</div>
<div class="c" style="left:262.72px;top:122.15px;width:24.82px;height:11.71px;line-height:12.01px;background:#fbe781">0.83%</div>
<div class="c" style="left:287.24px;top:122.15px;width:24.82px;height:11.71px;line-height:12.01px;background:#dee37d">0.61%</div>
<div class="c" style="left:311.76px;top:122.15px;width:24.82px;height:11.71px;line-height:12.01px;background:#50c26f">0.21%</div>
<div class="c" style="left:336.28px;top:122.15px;width:24.82px;height:11.71px;line-height:12.01px;background:#2fbb6d">0.10%</div>
<div class="c" style="left:360.80px;top:122.15px;width:24.82px;height:11.71px;line-height:12.01px;background:#53c36f">0.22%</div>
<div class="c" style="left:385.32px;top:122.15px;width:24.82px;height:11.71px;line-height:12.01px;background:#5ac46f">0.24%</div>
<div class="c" style="left:409.84px;top:122.15px;width:24.82px;height:11.71px;line-height:12.01px;background:#44c06e">0.17%</div>
<div class="c" style="left:434.36px;top:122.15px;width:24.82px;height:11.71px;line-height:12.01px;background:#26ba6d">0.07%</div>
<div class="c" style="left:115.60px;top:133.56px;width:24.82px;height:11.71px;line-height:12.01px;background:#5fc56f">0.25%</div>
<div class="c" style="left:140.12px;top:133.56px;width:24.82px;height:11.71px;line-height:12.01px;background:#e8e57f">0.67%</div>
<div class="c" style="left:164.64px;top:133.56px;width:24.82px;height:11.71px;line-height:12.01px;background:#fae781">0.82%</div>
<div class="c" style="left:189.16px;top:133.56px;width:24.82px;height:11.71px;line-height:12.01px;background:#f9e882">0.78%</div>
<div class="c" style="left:213.68px;top:133.56px;width:24.82px;height:11.71px;line-height:12.01px;background:#dce27d">0.60%</div>
<div class="c" style="left:238.20px;top:133.56px;width:24.82px;height:11.71px;line-height:12.01px;background:#7fcb71">0.33%</div>
<div class="c" style="left:262.72px;top:133.56px;width:24.82px;height:11.71px;line-height:12.01px;background:#63c670">0.26%</div>
<div class="c" style="left:287.24px;top:133.56px;width:24.82px;height:11.71px;line-height:12.01px;background:#47c06e">0.18%</div>
<div class="c" style="left:311.76px;top:133.56px;width:24.82px;height:11.71px;line-height:12.01px;background:#1ab76c">0.03%</div>
<div class="c" style="left:360.80px;top:133.56px;width:24.82px;height:11.71px;line-height:12.01px;background:#2fbb6d">0.10%</div>
<div class="c" style="left:385.32px;top:133.56px;width:24.82px;height:11.71px;line-height:12.01px;background:#44c06e">0.17%</div>
<div class="c" style="left:409.84px;top:133.56px;width:24.82px;height:11.71px;line-height:12.01px;background:#2fbb6d">0.10%</div>
<div class="c" style="left:434.36px;top:133.56px;width:24.82px;height:11.71px;line-height:12.01px;background:#1ab76c">0.03%</div>
<div class="c" style="left:115.60px;top:144.97px;width:24.82px;height:11.71px;line-height:12.01px;background:#3ebf6e">0.15%</div>
<div class="c" style="left:140.12px;top:144.97px;width:24.82px;height:11.71px;line-height:12.01px;background:#99d173">0.40%</div>
<div class="c" style="left:164.64px;top:144.97px;width:24.82px;height:11.71px;line-height:12.01px;background:#d4e07c">0.56%</div>
<div class="c" style="left:189.16px;top:144.97px;width:24.82px;height:11.71px;line-height:12.01px;background:#e3e47e">0.64%</div>
<div class="c" style="left:213.68px;top:144.97px;width:24.82px;height:11.71px;line-height:12.01px;background:#c8dd79">0.53%</div>
<div class="c" style="left:238.20px;top:144.97px;width:24.82px;height:11.71px;line-height:12.01px;background:#5fc56f">0.25%</div>
<div class="c" style="left:262.72px;top:144.97px;width:24.82px;height:11.71px;line-height:12.01px;background:#2fbb6d">0.10%</div>
<div class="c" style="left:287.24px;top:144.97px;width:24.82px;height:11.71px;line-height:12.01px;background:#26ba6d">0.07%</div>
<div class="c" style="left:311.76px;top:144.97px;width:24.82px;height:11.71px;line-height:12.01px;background:#20b86d">0.05%</div>
<div class="c" style="left:360.80px;top:144.97px;width:24.82px;height:11.71px;line-height:12.01px;background:#14b66c">0.01%</div>
<div class="c" style="left:385.32px;top:144.97px;width:24.82px;height:11.71px;line-height:12.01px;background:#1db86c">0.04%</div>
<div class="c" style="left:409.84px;top:144.97px;width:24.82px;height:11.71px;line-height:12.01px;background:#1ab76c">0.03%</div>
<div class="c" style="left:115.60px;top:156.37px;width:24.82px;height:11.71px;line-height:12.01px;background:#2fbb6d">0.10%</div>
<div class="c" style="left:140.12px;top:156.37px;width:24.82px;height:11.71px;line-height:12.01px;background:#5ac46f">0.24%</div>
<div class="c" style="left:164.64px;top:156.37px;width:24.82px;height:11.71px;line-height:12.01px;background:#99d173">0.40%</div>
<div class="c" style="left:189.16px;top:156.37px;width:24.82px;height:11.71px;line-height:12.01px;background:#ccde7a">0.54%</div>
<div class="c" style="left:213.68px;top:156.37px;width:24.82px;height:11.71px;line-height:12.01px;background:#abd575">0.45%</div>
<div class="c" style="left:238.20px;top:156.37px;width:24.82px;height:11.71px;line-height:12.01px;background:#5fc56f">0.25%</div>
<div class="c" style="left:262.72px;top:156.37px;width:24.82px;height:11.71px;line-height:12.01px;background:#26ba6d">0.07%</div>
<div class="c" style="left:115.60px;top:167.78px;width:24.82px;height:11.71px;line-height:12.01px;background:#1db86c">0.04%</div>
<div class="c" style="left:140.12px;top:167.78px;width:24.82px;height:11.71px;line-height:12.01px;background:#3bbe6e">0.14%</div>
<div class="c" style="left:164.64px;top:167.78px;width:24.82px;height:11.71px;line-height:12.01px;background:#6bc770">0.28%</div>
<div class="c" style="left:189.16px;top:167.78px;width:24.82px;height:11.71px;line-height:12.01px;background:#7bca70">0.32%</div>
<div class="c" style="left:213.68px;top:167.78px;width:24.82px;height:11.71px;line-height:12.01px;background:#5ac46f">0.24%</div>
<div class="c" style="left:238.20px;top:167.78px;width:24.82px;height:11.71px;line-height:12.01px;background:#38bd6e">0.13%</div>
<div class="c" style="left:262.72px;top:167.78px;width:24.82px;height:11.71px;line-height:12.01px;background:#1ab76c">0.03%</div>
<div class="c" style="left:164.64px;top:179.18px;width:24.82px;height:11.71px;line-height:12.01px;background:#23b96d">0.06%</div>
<div class="c" style="left:189.16px;top:179.18px;width:24.82px;height:11.71px;line-height:12.01px;background:#23b96d">0.06%</div>
<div class="c" style="left:213.68px;top:179.18px;width:24.82px;height:11.71px;line-height:12.01px;background:#14b66c">0.01%</div>
<div class="c" style="left:238.20px;top:179.18px;width:24.82px;height:11.71px;line-height:12.01px;background:#14b66c">0.01%</div>
</div>
<div class="ln" style="left:86.50px;top:19.00px;width:397.40px;height:1px"></div>
<div class="ln" style="left:86.50px;top:201.50px;width:397.40px;height:1px"></div>
<div class="ln" style="left:86.50px;top:19.00px;width:1px;height:183.50px"></div>
<div class="ln sep" style="left:262.22px;top:19.00px;width:1px;height:183.50px"></div>
<div class="ln sep" style="left:335.78px;top:19.00px;width:1px;height:183.50px"></div>
<div class="ln" style="left:482.90px;top:19.00px;width:1px;height:183.50px"></div>
<div class="yl" style="top:21.10px;left:50.00px">2.00</div>
<div class="ln" style="left:83.00px;top:30.41px;width:4px;height:1px"></div>
<div class="yl" style="top:32.51px;left:50.00px">1.75</div>
<div class="ln" style="left:83.00px;top:41.81px;width:4px;height:1px"></div>
<div class="yl" style="top:43.91px;left:50.00px">1.50</div>
<div class="ln" style="left:83.00px;top:53.22px;width:4px;height:1px"></div>
<div class="yl" style="top:55.32px;left:50.00px">1.25</div>
<div class="ln" style="left:83.00px;top:64.62px;width:4px;height:1px"></div>
<div class="yl" style="top:66.73px;left:50.00px">1.00</div>
<div class="ln" style="left:83.00px;top:76.03px;width:4px;height:1px"></div>
<div class="yl" style="top:78.13px;left:50.00px">0.75</div>
<div class="ln" style="left:83.00px;top:87.44px;width:4px;height:1px"></div>
<div class="yl" style="top:89.54px;left:50.00px">0.50</div>
<div class="ln" style="left:83.00px;top:98.84px;width:4px;height:1px"></div>
<div class="yl" style="top:100.95px;left:50.00px">0.25</div>
<div class="ln" style="left:83.00px;top:110.25px;width:4px;height:1px"></div>
<div class="yl" style="top:112.35px;left:50.00px">0.00</div>
<div class="ln" style="left:83.00px;top:121.65px;width:4px;height:1px"></div>
<div class="yl" style="top:123.76px;left:50.00px">−0.25</div>
<div class="ln" style="left:83.00px;top:133.06px;width:4px;height:1px"></div>
<div class="yl" style="top:135.16px;left:50.00px">−0.50</div>
<div class="ln" style="left:83.00px;top:144.47px;width:4px;height:1px"></div>
<div class="yl" style="top:146.57px;left:50.00px">−0.75</div>
<div class="ln" style="left:83.00px;top:155.87px;width:4px;height:1px"></div>
<div class="yl" style="top:157.98px;left:50.00px">−1.00</div>
<div class="ln" style="left:83.00px;top:167.28px;width:4px;height:1px"></div>
<div class="yl" style="top:169.38px;left:50.00px">−1.25</div>
<div class="ln" style="left:83.00px;top:178.68px;width:4px;height:1px"></div>
<div class="yl" style="top:180.79px;left:50.00px">−1.50</div>
<div class="ln" style="left:83.00px;top:190.09px;width:4px;height:1px"></div>
<div class="yl" style="top:192.19px;left:50.00px">−1.75</div>
<div class="xl" style="left:86.30px;top:208.20px">0</div>
<div class="ln" style="left:86.50px;top:202.00px;width:1px;height:5.5px"></div>
<div class="xl" style="left:112.86px;top:208.20px">10</div>
<div class="ln" style="left:115.10px;top:202.00px;width:1px;height:5.5px"></div>
<div class="xl" style="left:137.38px;top:208.20px">20</div>
<div class="ln" style="left:139.62px;top:202.00px;width:1px;height:5.5px"></div>
<div class="xl" style="left:161.90px;top:208.20px">30</div>
<div class="ln" style="left:164.14px;top:202.00px;width:1px;height:5.5px"></div>
<div class="xl" style="left:186.42px;top:208.20px">40</div>
<div class="ln" style="left:188.66px;top:202.00px;width:1px;height:5.5px"></div>
<div class="xl" style="left:210.94px;top:208.20px">50</div>
<div class="ln" style="left:213.18px;top:202.00px;width:1px;height:5.5px"></div>
<div class="xl" style="left:235.46px;top:208.20px">60</div>
<div class="ln" style="left:237.70px;top:202.00px;width:1px;height:5.5px"></div>
<div class="xl" style="left:259.98px;top:208.20px">70</div>
<div class="ln" style="left:262.22px;top:202.00px;width:1px;height:5.5px"></div>
<div class="xl" style="left:284.50px;top:208.20px">80</div>
<div class="ln" style="left:286.74px;top:202.00px;width:1px;height:5.5px"></div>
<div class="xl" style="left:309.02px;top:208.20px">90</div>
<div class="ln" style="left:311.26px;top:202.00px;width:1px;height:5.5px"></div>
<div class="xl" style="left:333.54px;top:208.20px">100</div>
<div class="ln" style="left:335.78px;top:202.00px;width:1px;height:5.5px"></div>
<div class="xl" style="left:358.06px;top:208.20px">110</div>
<div class="ln" style="left:360.30px;top:202.00px;width:1px;height:5.5px"></div>
<div class="xl" style="left:382.58px;top:208.20px">120</div>
<div class="ln" style="left:384.82px;top:202.00px;width:1px;height:5.5px"></div>
<div class="xl" style="left:407.10px;top:208.20px">130</div>
<div class="ln" style="left:409.34px;top:202.00px;width:1px;height:5.5px"></div>
<div class="xl" style="left:431.62px;top:208.20px">140</div>
<div class="ln" style="left:433.86px;top:202.00px;width:1px;height:5.5px"></div>
<div class="xl" style="left:456.14px;top:208.20px">150</div>
<div class="ln" style="left:458.38px;top:202.00px;width:1px;height:5.5px"></div>
<div class="ln" style="left:482.90px;top:202.00px;width:1px;height:5.5px"></div>
<div class="xt" style="left:245.20px;top:222.00px">v [km/h]</div>
<div class="yt" style="left:13.00px;top:104.75px">a [m/s<sup>2</sup>]</div>
<div class="lt" style="left:491.00px;top:7.00px">u<sub>i</sub> [%]</div>
<div style="position:absolute;left:523.00px;top:19.50px;width:16.80px;height:11.71px;background:#f8686b"></div>
<div class="ll" style="left:488.00px;top:21.60px">3.22%</div>
<div class="ln2" style="left:520.00px;top:30.41px;width:3px;height:1px"></div>
<div style="position:absolute;left:523.00px;top:30.91px;width:16.80px;height:11.71px;background:#f9736d"></div>
<div class="ll" style="left:488.00px;top:33.01px">3.01%</div>
<div class="ln2" style="left:520.00px;top:41.81px;width:3px;height:1px"></div>
<div style="position:absolute;left:523.00px;top:42.31px;width:16.80px;height:11.71px;background:#f97f6f"></div>
<div class="ll" style="left:488.00px;top:44.41px">2.79%</div>
<div class="ln2" style="left:520.00px;top:53.22px;width:3px;height:1px"></div>
<div style="position:absolute;left:523.00px;top:53.72px;width:16.80px;height:11.71px;background:#fa8a71"></div>
<div class="ll" style="left:488.00px;top:55.82px">2.58%</div>
<div class="ln2" style="left:520.00px;top:64.62px;width:3px;height:1px"></div>
<div style="position:absolute;left:523.00px;top:65.12px;width:16.80px;height:11.71px;background:#fa9673"></div>
<div class="ll" style="left:488.00px;top:67.23px">2.37%</div>
<div class="ln2" style="left:520.00px;top:76.03px;width:3px;height:1px"></div>
<div style="position:absolute;left:523.00px;top:76.53px;width:16.80px;height:11.71px;background:#fba175"></div>
<div class="ll" style="left:488.00px;top:78.63px">2.15%</div>
<div class="ln2" style="left:520.00px;top:87.44px;width:3px;height:1px"></div>
<div style="position:absolute;left:523.00px;top:87.94px;width:16.80px;height:11.71px;background:#fbad76"></div>
<div class="ll" style="left:488.00px;top:90.04px">1.94%</div>
<div class="ln2" style="left:520.00px;top:98.84px;width:3px;height:1px"></div>
<div style="position:absolute;left:523.00px;top:99.34px;width:16.80px;height:11.71px;background:#fcb878"></div>
<div class="ll" style="left:488.00px;top:101.45px">1.73%</div>
<div class="ln2" style="left:520.00px;top:110.25px;width:3px;height:1px"></div>
<div style="position:absolute;left:523.00px;top:110.75px;width:16.80px;height:11.71px;background:#fcc47a"></div>
<div class="ll" style="left:488.00px;top:112.85px">1.51%</div>
<div class="ln2" style="left:520.00px;top:121.65px;width:3px;height:1px"></div>
<div style="position:absolute;left:523.00px;top:122.15px;width:16.80px;height:11.71px;background:#fdcf7c"></div>
<div class="ll" style="left:488.00px;top:124.26px">1.30%</div>
<div class="ln2" style="left:520.00px;top:133.06px;width:3px;height:1px"></div>
<div style="position:absolute;left:523.00px;top:133.56px;width:16.80px;height:11.71px;background:#fddb7e"></div>
<div class="ll" style="left:488.00px;top:135.66px">1.08%</div>
<div class="ln2" style="left:520.00px;top:144.47px;width:3px;height:1px"></div>
<div style="position:absolute;left:523.00px;top:144.97px;width:16.80px;height:11.71px;background:#fee680"></div>
<div class="ll" style="left:488.00px;top:147.07px">0.87%</div>
<div class="ln2" style="left:520.00px;top:155.87px;width:3px;height:1px"></div>
<div style="position:absolute;left:523.00px;top:156.37px;width:16.80px;height:11.71px;background:#dde07a"></div>
<div class="ll" style="left:488.00px;top:158.48px">0.66%</div>
<div class="ln2" style="left:520.00px;top:167.28px;width:3px;height:1px"></div>
<div style="position:absolute;left:523.00px;top:167.78px;width:16.80px;height:11.71px;background:#9ad070"></div>
<div class="ll" style="left:488.00px;top:169.88px">0.44%</div>
<div class="ln2" style="left:520.00px;top:178.68px;width:3px;height:1px"></div>
<div style="position:absolute;left:523.00px;top:179.18px;width:16.80px;height:11.71px;background:#5cc470"></div>
<div class="ll" style="left:488.00px;top:181.29px">0.23%</div>
<div class="ln2" style="left:520.00px;top:190.09px;width:3px;height:1px"></div>
<div style="position:absolute;left:523.00px;top:190.59px;width:16.80px;height:11.71px;background:#18b86c"></div>
<div class="ll" style="left:488.00px;top:192.69px">0.01%</div>
<div class="ln2" style="left:520.00px;top:201.50px;width:3px;height:1px"></div>
<div class="lb" style="left:522.50px;top:19.00px;width:17.80px;height:183.70px"></div>
<div class="bw" style="left:441px;top:22.9px;width:39px;height:18.4px;line-height:18.4px"><span class="bt">WLTC<span class="bs">H2</span></span></div>
<svg class="pm" style="left:442.6px;top:157.9px" width="34.0" height="40.0" viewBox="-4 -2 34 40">
<path d="M0.8 1.6 Q0.8 0.6 1.8 0.6 L18.8 0.6 Q19.8 0.6 19.8 1.6 L19.8 35 L0.8 35 Z" fill="#1290e8" stroke="#0b3796" stroke-width="1.6"/>
<rect x="3.4" y="3.6" width="13.8" height="9.0" fill="#fff" stroke="#0b3796" stroke-width="0.8"/>
<path d="M10.3 19.0 C8.4 22.4 6.4 24.8 6.4 27.2 A3.9 3.9 0 0 0 14.2 27.2 C14.2 24.8 12.2 22.4 10.3 19.0 Z" fill="#fff" stroke="#0b3796" stroke-width="0.9"/>
<path d="M-3.2 35.6 L24.2 35.6" stroke="#0b3796" stroke-width="1.8" stroke-linecap="round"/>
<path d="M20 19.4 L21.3 19.4 Q23 19.4 23 21.2 L23 25.8 Q23 28.4 25.3 28.4 Q27.6 28.4 27.6 25.8 L27.6 11.2" fill="none" stroke="#0b3796" stroke-width="1.25"/>
<path d="M22.8 2.8 Q27.8 6.6 27.6 12.6" fill="none" stroke="#0b3796" stroke-width="1.9" stroke-linecap="round"/>
<circle cx="25.1" cy="11.2" r="1.9" fill="#fff" stroke="#0b3796" stroke-width="1.3"/>
</svg>
</div><div class="ch" style="top:731px">
<div class="hd" style="left:87.10px;top:6.0px;width:178.48px;height:13.60px;line-height:14.20px;background:#f9d3d6">Urban</div>
<div class="hd" style="left:265.58px;top:6.0px;width:74.49px;height:13.60px;line-height:14.20px;background:#e9edda">Rural</div>
<div class="hd" style="left:340.07px;top:6.0px;width:149.48px;height:13.60px;line-height:14.20px;background:#b7d5f1">Motorway</div>
<div class="st" style="left:86.60px;top:205.60px;width:178.98px;height:15.60px;background:#f8d5d5"></div>
<div class="st" style="left:265.58px;top:205.60px;width:74.49px;height:15.60px;background:#ece8dc"></div>
<div class="st" style="left:340.07px;top:205.60px;width:149.48px;height:15.60px;background:#d6e3f2"></div>
<div class="grid">
<div class="c" style="left:116.60px;top:19.60px;width:25.13px;height:11.93px;line-height:12.22px;background:#1ab76c">0.03%</div>
<div class="c" style="left:141.43px;top:19.60px;width:25.13px;height:11.93px;line-height:12.22px;background:#25b96d">0.09%</div>
<div class="c" style="left:166.26px;top:19.60px;width:25.13px;height:11.93px;line-height:12.22px;background:#25b96d">0.09%</div>
<div class="c" style="left:191.09px;top:19.60px;width:25.13px;height:11.93px;line-height:12.22px;background:#1bb86c">0.04%</div>
<div class="c" style="left:215.92px;top:19.60px;width:25.13px;height:11.93px;line-height:12.22px;background:#16b66c">0.01%</div>
<div class="c" style="left:116.60px;top:31.23px;width:25.13px;height:11.93px;line-height:12.22px;background:#1fb86d">0.06%</div>
<div class="c" style="left:141.43px;top:31.23px;width:25.13px;height:11.93px;line-height:12.22px;background:#2ebb6d">0.14%</div>
<div class="c" style="left:166.26px;top:31.23px;width:25.13px;height:11.93px;line-height:12.22px;background:#2cbb6d">0.13%</div>
<div class="c" style="left:191.09px;top:31.23px;width:25.13px;height:11.93px;line-height:12.22px;background:#21b96d">0.07%</div>
<div class="c" style="left:215.92px;top:31.23px;width:25.13px;height:11.93px;line-height:12.22px;background:#1bb86c">0.04%</div>
<div class="c" style="left:240.75px;top:31.23px;width:25.13px;height:11.93px;line-height:12.22px;background:#16b66c">0.01%</div>
<div class="c" style="left:116.60px;top:42.85px;width:25.13px;height:11.93px;line-height:12.22px;background:#1fb86d">0.06%</div>
<div class="c" style="left:141.43px;top:42.85px;width:25.13px;height:11.93px;line-height:12.22px;background:#32bc6d">0.16%</div>
<div class="c" style="left:166.26px;top:42.85px;width:25.13px;height:11.93px;line-height:12.22px;background:#37bd6e">0.19%</div>
<div class="c" style="left:191.09px;top:42.85px;width:25.13px;height:11.93px;line-height:12.22px;background:#32bc6d">0.16%</div>
<div class="c" style="left:215.92px;top:42.85px;width:25.13px;height:11.93px;line-height:12.22px;background:#25b96d">0.09%</div>
<div class="c" style="left:240.75px;top:42.85px;width:25.13px;height:11.93px;line-height:12.22px;background:#1ab76c">0.03%</div>
<div class="c" style="left:265.58px;top:42.85px;width:25.13px;height:11.93px;line-height:12.22px;background:#16b66c">0.01%</div>
<div class="c" style="left:116.60px;top:54.48px;width:25.13px;height:11.93px;line-height:12.22px;background:#1fb86d">0.06%</div>
<div class="c" style="left:141.43px;top:54.48px;width:25.13px;height:11.93px;line-height:12.22px;background:#32bc6d">0.16%</div>
<div class="c" style="left:166.26px;top:54.48px;width:25.13px;height:11.93px;line-height:12.22px;background:#4bc16f">0.30%</div>
<div class="c" style="left:191.09px;top:54.48px;width:25.13px;height:11.93px;line-height:12.22px;background:#55c36f">0.35%</div>
<div class="c" style="left:215.92px;top:54.48px;width:25.13px;height:11.93px;line-height:12.22px;background:#35bd6e">0.18%</div>
<div class="c" style="left:240.75px;top:54.48px;width:25.13px;height:11.93px;line-height:12.22px;background:#21b96d">0.07%</div>
<div class="c" style="left:265.58px;top:54.48px;width:25.13px;height:11.93px;line-height:12.22px;background:#1fb86d">0.06%</div>
<div class="c" style="left:290.41px;top:54.48px;width:25.13px;height:11.93px;line-height:12.22px;background:#1ab76c">0.03%</div>
<div class="c" style="left:315.24px;top:54.48px;width:25.13px;height:11.93px;line-height:12.22px;background:#16b66c">0.01%</div>
<div class="c" style="left:116.60px;top:66.10px;width:25.13px;height:11.93px;line-height:12.22px;background:#1fb86d">0.06%</div>
<div class="c" style="left:141.43px;top:66.10px;width:25.13px;height:11.93px;line-height:12.22px;background:#35bd6e">0.18%</div>
<div class="c" style="left:166.26px;top:66.10px;width:25.13px;height:11.93px;line-height:12.22px;background:#6ec870">0.45%</div>
<div class="c" style="left:191.09px;top:66.10px;width:25.13px;height:11.93px;line-height:12.22px;background:#90cf72">0.59%</div>
<div class="c" style="left:215.92px;top:66.10px;width:25.13px;height:11.93px;line-height:12.22px;background:#5fc56f">0.39%</div>
<div class="c" style="left:240.75px;top:66.10px;width:25.13px;height:11.93px;line-height:12.22px;background:#39be6e">0.20%</div>
<div class="c" style="left:265.58px;top:66.10px;width:25.13px;height:11.93px;line-height:12.22px;background:#2ebb6d">0.14%</div>
<div class="c" style="left:290.41px;top:66.10px;width:25.13px;height:11.93px;line-height:12.22px;background:#23b96d">0.08%</div>
<div class="c" style="left:315.24px;top:66.10px;width:25.13px;height:11.93px;line-height:12.22px;background:#1bb86c">0.04%</div>
<div class="c" style="left:340.07px;top:66.10px;width:25.13px;height:11.93px;line-height:12.22px;background:#18b76c">0.02%</div>
<div class="c" style="left:364.90px;top:66.10px;width:25.13px;height:11.93px;line-height:12.22px;background:#16b66c">0.01%</div>
<div class="c" style="left:389.73px;top:66.10px;width:25.13px;height:11.93px;line-height:12.22px;background:#14b66c">0.00%</div>
<div class="c" style="left:414.56px;top:66.10px;width:25.13px;height:11.93px;line-height:12.22px;background:#14b66c">0.00%</div>
<div class="c" style="left:116.60px;top:77.72px;width:25.13px;height:11.93px;line-height:12.22px;background:#2abb6d">0.12%</div>
<div class="c" style="left:141.43px;top:77.72px;width:25.13px;height:11.93px;line-height:12.22px;background:#4ac16f">0.29%</div>
<div class="c" style="left:166.26px;top:77.72px;width:25.13px;height:11.93px;line-height:12.22px;background:#92cf72">0.60%</div>
<div class="c" style="left:191.09px;top:77.72px;width:25.13px;height:11.93px;line-height:12.22px;background:#e2e37e">1.01%</div>
<div class="c" style="left:215.92px;top:77.72px;width:25.13px;height:11.93px;line-height:12.22px;background:#e8e57f">1.06%</div>
<div class="c" style="left:240.75px;top:77.72px;width:25.13px;height:11.93px;line-height:12.22px;background:#afd675">0.73%</div>
<div class="c" style="left:265.58px;top:77.72px;width:25.13px;height:11.93px;line-height:12.22px;background:#73c970">0.47%</div>
<div class="c" style="left:290.41px;top:77.72px;width:25.13px;height:11.93px;line-height:12.22px;background:#5ac46f">0.37%</div>
<div class="c" style="left:315.24px;top:77.72px;width:25.13px;height:11.93px;line-height:12.22px;background:#3dbe6e">0.22%</div>
<div class="c" style="left:340.07px;top:77.72px;width:25.13px;height:11.93px;line-height:12.22px;background:#30bc6d">0.15%</div>
<div class="c" style="left:364.90px;top:77.72px;width:25.13px;height:11.93px;line-height:12.22px;background:#26ba6d">0.10%</div>
<div class="c" style="left:389.73px;top:77.72px;width:25.13px;height:11.93px;line-height:12.22px;background:#25b96d">0.09%</div>
<div class="c" style="left:414.56px;top:77.72px;width:25.13px;height:11.93px;line-height:12.22px;background:#25b96d">0.09%</div>
<div class="c" style="left:116.60px;top:89.35px;width:25.13px;height:11.93px;line-height:12.22px;background:#3dbe6e">0.22%</div>
<div class="c" style="left:141.43px;top:89.35px;width:25.13px;height:11.93px;line-height:12.22px;background:#78ca70">0.49%</div>
<div class="c" style="left:166.26px;top:89.35px;width:25.13px;height:11.93px;line-height:12.22px;background:#d1e07b">0.88%</div>
<div class="c" style="left:191.09px;top:89.35px;width:25.13px;height:11.93px;line-height:12.22px;background:#fdd97e">1.83%</div>
<div class="c" style="left:215.92px;top:89.35px;width:25.13px;height:11.93px;line-height:12.22px;background:#fbae77">3.10%</div>
<div class="c" style="left:240.75px;top:89.35px;width:25.13px;height:11.93px;line-height:12.22px;background:#fcc37a">2.48%</div>
<div class="c" style="left:265.58px;top:89.35px;width:25.13px;height:11.93px;line-height:12.22px;background:#fce781">1.37%</div>
<div class="c" style="left:290.41px;top:89.35px;width:25.13px;height:11.93px;line-height:12.22px;background:#fede7f">1.69%</div>
<div class="c" style="left:315.24px;top:89.35px;width:25.13px;height:11.93px;line-height:12.22px;background:#fee580">1.48%</div>
<div class="c" style="left:340.07px;top:89.35px;width:25.13px;height:11.93px;line-height:12.22px;background:#bfdb78">0.80%</div>
<div class="c" style="left:364.90px;top:89.35px;width:25.13px;height:11.93px;line-height:12.22px;background:#d7e17c">0.91%</div>
<div class="c" style="left:389.73px;top:89.35px;width:25.13px;height:11.93px;line-height:12.22px;background:#fbe781">1.33%</div>
<div class="c" style="left:414.56px;top:89.35px;width:25.13px;height:11.93px;line-height:12.22px;background:#9dd273">0.65%</div>
<div class="c" style="left:87.60px;top:100.97px;width:29.30px;height:11.93px;line-height:12.22px;background:#fdc77b">2.36%</div>
<div class="c" style="left:116.60px;top:100.97px;width:25.13px;height:11.93px;line-height:12.22px;background:#fcbc79">2.69%</div>
<div class="c" style="left:141.43px;top:100.97px;width:25.13px;height:11.93px;line-height:12.22px;background:#add675">0.72%</div>
<div class="c" style="left:166.26px;top:100.97px;width:25.13px;height:11.93px;line-height:12.22px;background:#f0e681">1.14%</div>
<div class="c" style="left:191.09px;top:100.97px;width:25.13px;height:11.93px;line-height:12.22px;background:#fcc57b">2.42%</div>
<div class="c" style="left:215.92px;top:100.97px;width:25.13px;height:11.93px;line-height:12.22px;background:#f8686b">5.19%</div>
<div class="c" style="left:240.75px;top:100.97px;width:25.13px;height:11.93px;line-height:12.22px;background:#f97c6e">4.59%</div>
<div class="c" style="left:265.58px;top:100.97px;width:25.13px;height:11.93px;line-height:12.22px;background:#fcc67b">2.39%</div>
<div class="c" style="left:290.41px;top:100.97px;width:25.13px;height:11.93px;line-height:12.22px;background:#fba876">3.28%</div>
<div class="c" style="left:315.24px;top:100.97px;width:25.13px;height:11.93px;line-height:12.22px;background:#fba575">3.37%</div>
<div class="c" style="left:340.07px;top:100.97px;width:25.13px;height:11.93px;line-height:12.22px;background:#fedf7f">1.65%</div>
<div class="c" style="left:364.90px;top:100.97px;width:25.13px;height:11.93px;line-height:12.22px;background:#fedd7f">1.71%</div>
<div class="c" style="left:389.73px;top:100.97px;width:25.13px;height:11.93px;line-height:12.22px;background:#fba876">3.28%</div>
<div class="c" style="left:414.56px;top:100.97px;width:25.13px;height:11.93px;line-height:12.22px;background:#fdd97e">1.83%</div>
<div class="c" style="left:87.60px;top:112.60px;width:29.30px;height:11.93px;line-height:12.22px;background:#fdc77b">2.36%</div>
<div class="c" style="left:116.60px;top:112.60px;width:25.13px;height:11.93px;line-height:12.22px;background:#fcbb79">2.73%</div>
<div class="c" style="left:141.43px;top:112.60px;width:25.13px;height:11.93px;line-height:12.22px;background:#b4d776">0.75%</div>
<div class="c" style="left:166.26px;top:112.60px;width:25.13px;height:11.93px;line-height:12.22px;background:#d4e07c">0.89%</div>
<div class="c" style="left:191.09px;top:112.60px;width:25.13px;height:11.93px;line-height:12.22px;background:#fedf7f">1.65%</div>
<div class="c" style="left:215.92px;top:112.60px;width:25.13px;height:11.93px;line-height:12.22px;background:#fba375">3.44%</div>
<div class="c" style="left:240.75px;top:112.60px;width:25.13px;height:11.93px;line-height:12.22px;background:#fbb077">3.04%</div>
<div class="c" style="left:265.58px;top:112.60px;width:25.13px;height:11.93px;line-height:12.22px;background:#fee17f">1.60%</div>
<div class="c" style="left:290.41px;top:112.60px;width:25.13px;height:11.93px;line-height:12.22px;background:#fdcf7c">2.13%</div>
<div class="c" style="left:315.24px;top:112.60px;width:25.13px;height:11.93px;line-height:12.22px;background:#fdcd7c">2.20%</div>
<div class="c" style="left:340.07px;top:112.60px;width:25.13px;height:11.93px;line-height:12.22px;background:#e6e47f">1.05%</div>
<div class="c" style="left:364.90px;top:112.60px;width:25.13px;height:11.93px;line-height:12.22px;background:#dee37d">0.97%</div>
<div class="c" style="left:389.73px;top:112.60px;width:25.13px;height:11.93px;line-height:12.22px;background:#fdd27d">2.04%</div>
<div class="c" style="left:414.56px;top:112.60px;width:25.13px;height:11.93px;line-height:12.22px;background:#f8e882">1.22%</div>
<div class="c" style="left:87.60px;top:124.22px;width:29.30px;height:11.93px;line-height:12.22px;background:#14b66c">0.00%</div>
<div class="c" style="left:116.60px;top:124.22px;width:25.13px;height:11.93px;line-height:12.22px;background:#4dc26f">0.31%</div>
<div class="c" style="left:141.43px;top:124.22px;width:25.13px;height:11.93px;line-height:12.22px;background:#82cc71">0.53%</div>
<div class="c" style="left:166.26px;top:124.22px;width:25.13px;height:11.93px;line-height:12.22px;background:#69c770">0.43%</div>
<div class="c" style="left:191.09px;top:124.22px;width:25.13px;height:11.93px;line-height:12.22px;background:#92cf72">0.60%</div>
<div class="c" style="left:215.92px;top:124.22px;width:25.13px;height:11.93px;line-height:12.22px;background:#b4d776">0.75%</div>
<div class="c" style="left:240.75px;top:124.22px;width:25.13px;height:11.93px;line-height:12.22px;background:#6ec870">0.45%</div>
<div class="c" style="left:265.58px;top:124.22px;width:25.13px;height:11.93px;line-height:12.22px;background:#40bf6e">0.24%</div>
<div class="c" style="left:290.41px;top:124.22px;width:25.13px;height:11.93px;line-height:12.22px;background:#46c06e">0.27%</div>
<div class="c" style="left:315.24px;top:124.22px;width:25.13px;height:11.93px;line-height:12.22px;background:#32bc6d">0.16%</div>
<div class="c" style="left:340.07px;top:124.22px;width:25.13px;height:11.93px;line-height:12.22px;background:#2abb6d">0.12%</div>
<div class="c" style="left:364.90px;top:124.22px;width:25.13px;height:11.93px;line-height:12.22px;background:#2ebb6d">0.14%</div>
<div class="c" style="left:389.73px;top:124.22px;width:25.13px;height:11.93px;line-height:12.22px;background:#23b96d">0.08%</div>
<div class="c" style="left:414.56px;top:124.22px;width:25.13px;height:11.93px;line-height:12.22px;background:#16b66c">0.01%</div>
<div class="c" style="left:87.60px;top:135.85px;width:29.30px;height:11.93px;line-height:12.22px;background:#16b66c">0.01%</div>
<div class="c" style="left:116.60px;top:135.85px;width:25.13px;height:11.93px;line-height:12.22px;background:#44c06e">0.26%</div>
<div class="c" style="left:141.43px;top:135.85px;width:25.13px;height:11.93px;line-height:12.22px;background:#5ac46f">0.37%</div>
<div class="c" style="left:166.26px;top:135.85px;width:25.13px;height:11.93px;line-height:12.22px;background:#4ac16f">0.29%</div>
<div class="c" style="left:191.09px;top:135.85px;width:25.13px;height:11.93px;line-height:12.22px;background:#5fc56f">0.39%</div>
<div class="c" style="left:215.92px;top:135.85px;width:25.13px;height:11.93px;line-height:12.22px;background:#51c26f">0.33%</div>
<div class="c" style="left:240.75px;top:135.85px;width:25.13px;height:11.93px;line-height:12.22px;background:#30bc6d">0.15%</div>
<div class="c" style="left:265.58px;top:135.85px;width:25.13px;height:11.93px;line-height:12.22px;background:#23b96d">0.08%</div>
<div class="c" style="left:290.41px;top:135.85px;width:25.13px;height:11.93px;line-height:12.22px;background:#21b96d">0.07%</div>
<div class="c" style="left:315.24px;top:135.85px;width:25.13px;height:11.93px;line-height:12.22px;background:#1fb86d">0.06%</div>
<div class="c" style="left:340.07px;top:135.85px;width:25.13px;height:11.93px;line-height:12.22px;background:#1fb86d">0.06%</div>
<div class="c" style="left:364.90px;top:135.85px;width:25.13px;height:11.93px;line-height:12.22px;background:#21b96d">0.07%</div>
<div class="c" style="left:389.73px;top:135.85px;width:25.13px;height:11.93px;line-height:12.22px;background:#1ab76c">0.03%</div>
<div class="c" style="left:87.60px;top:147.47px;width:29.30px;height:11.93px;line-height:12.22px;background:#16b66c">0.01%</div>
<div class="c" style="left:116.60px;top:147.47px;width:25.13px;height:11.93px;line-height:12.22px;background:#26ba6d">0.10%</div>
<div class="c" style="left:141.43px;top:147.47px;width:25.13px;height:11.93px;line-height:12.22px;background:#44c06e">0.26%</div>
<div class="c" style="left:166.26px;top:147.47px;width:25.13px;height:11.93px;line-height:12.22px;background:#4dc26f">0.31%</div>
<div class="c" style="left:191.09px;top:147.47px;width:25.13px;height:11.93px;line-height:12.22px;background:#4bc16f">0.30%</div>
<div class="c" style="left:215.92px;top:147.47px;width:25.13px;height:11.93px;line-height:12.22px;background:#33bc6d">0.17%</div>
<div class="c" style="left:240.75px;top:147.47px;width:25.13px;height:11.93px;line-height:12.22px;background:#26ba6d">0.10%</div>
<div class="c" style="left:265.58px;top:147.47px;width:25.13px;height:11.93px;line-height:12.22px;background:#21b96d">0.07%</div>
<div class="c" style="left:290.41px;top:147.47px;width:25.13px;height:11.93px;line-height:12.22px;background:#1bb86c">0.04%</div>
<div class="c" style="left:315.24px;top:147.47px;width:25.13px;height:11.93px;line-height:12.22px;background:#1ab76c">0.03%</div>
<div class="c" style="left:340.07px;top:147.47px;width:25.13px;height:11.93px;line-height:12.22px;background:#16b66c">0.01%</div>
<div class="c" style="left:364.90px;top:147.47px;width:25.13px;height:11.93px;line-height:12.22px;background:#16b66c">0.01%</div>
<div class="c" style="left:389.73px;top:147.47px;width:25.13px;height:11.93px;line-height:12.22px;background:#16b66c">0.01%</div>
<div class="c" style="left:116.60px;top:159.10px;width:25.13px;height:11.93px;line-height:12.22px;background:#26ba6d">0.10%</div>
<div class="c" style="left:141.43px;top:159.10px;width:25.13px;height:11.93px;line-height:12.22px;background:#40bf6e">0.24%</div>
<div class="c" style="left:166.26px;top:159.10px;width:25.13px;height:11.93px;line-height:12.22px;background:#4ac16f">0.29%</div>
<div class="c" style="left:191.09px;top:159.10px;width:25.13px;height:11.93px;line-height:12.22px;background:#3bbe6e">0.21%</div>
<div class="c" style="left:215.92px;top:159.10px;width:25.13px;height:11.93px;line-height:12.22px;background:#23b96d">0.08%</div>
<div class="c" style="left:240.75px;top:159.10px;width:25.13px;height:11.93px;line-height:12.22px;background:#1fb86d">0.06%</div>
<div class="c" style="left:265.58px;top:159.10px;width:25.13px;height:11.93px;line-height:12.22px;background:#1db86c">0.05%</div>
<div class="c" style="left:290.41px;top:159.10px;width:25.13px;height:11.93px;line-height:12.22px;background:#18b76c">0.02%</div>
<div class="c" style="left:315.24px;top:159.10px;width:25.13px;height:11.93px;line-height:12.22px;background:#16b66c">0.01%</div>
<div class="c" style="left:340.07px;top:159.10px;width:25.13px;height:11.93px;line-height:12.22px;background:#14b66c">0.00%</div>
<div class="c" style="left:364.90px;top:159.10px;width:25.13px;height:11.93px;line-height:12.22px;background:#14b66c">0.00%</div>
<div class="c" style="left:389.73px;top:159.10px;width:25.13px;height:11.93px;line-height:12.22px;background:#14b66c">0.00%</div>
<div class="c" style="left:116.60px;top:170.72px;width:25.13px;height:11.93px;line-height:12.22px;background:#1fb86d">0.06%</div>
<div class="c" style="left:141.43px;top:170.72px;width:25.13px;height:11.93px;line-height:12.22px;background:#32bc6d">0.16%</div>
<div class="c" style="left:166.26px;top:170.72px;width:25.13px;height:11.93px;line-height:12.22px;background:#37bd6e">0.19%</div>
<div class="c" style="left:191.09px;top:170.72px;width:25.13px;height:11.93px;line-height:12.22px;background:#2ebb6d">0.14%</div>
<div class="c" style="left:215.92px;top:170.72px;width:25.13px;height:11.93px;line-height:12.22px;background:#1fb86d">0.06%</div>
<div class="c" style="left:240.75px;top:170.72px;width:25.13px;height:11.93px;line-height:12.22px;background:#1bb86c">0.04%</div>
<div class="c" style="left:265.58px;top:170.72px;width:25.13px;height:11.93px;line-height:12.22px;background:#1ab76c">0.03%</div>
<div class="c" style="left:290.41px;top:170.72px;width:25.13px;height:11.93px;line-height:12.22px;background:#16b66c">0.01%</div>
<div class="c" style="left:116.60px;top:182.35px;width:25.13px;height:11.93px;line-height:12.22px;background:#1ab76c">0.03%</div>
<div class="c" style="left:141.43px;top:182.35px;width:25.13px;height:11.93px;line-height:12.22px;background:#25b96d">0.09%</div>
<div class="c" style="left:166.26px;top:182.35px;width:25.13px;height:11.93px;line-height:12.22px;background:#25b96d">0.09%</div>
<div class="c" style="left:191.09px;top:182.35px;width:25.13px;height:11.93px;line-height:12.22px;background:#1fb86d">0.06%</div>
<div class="c" style="left:215.92px;top:182.35px;width:25.13px;height:11.93px;line-height:12.22px;background:#1ab76c">0.03%</div>
<div class="c" style="left:240.75px;top:182.35px;width:25.13px;height:11.93px;line-height:12.22px;background:#18b76c">0.02%</div>
<div class="c" style="left:265.58px;top:182.35px;width:25.13px;height:11.93px;line-height:12.22px;background:#18b76c">0.02%</div>
<div class="c" style="left:290.41px;top:182.35px;width:25.13px;height:11.93px;line-height:12.22px;background:#14b66c">0.00%</div>
<div class="c" style="left:116.60px;top:193.97px;width:25.13px;height:11.93px;line-height:12.22px;background:#18b76c">0.02%</div>
<div class="c" style="left:141.43px;top:193.97px;width:25.13px;height:11.93px;line-height:12.22px;background:#1db86c">0.05%</div>
<div class="c" style="left:166.26px;top:193.97px;width:25.13px;height:11.93px;line-height:12.22px;background:#1db86c">0.05%</div>
<div class="c" style="left:191.09px;top:193.97px;width:25.13px;height:11.93px;line-height:12.22px;background:#1bb86c">0.04%</div>
<div class="c" style="left:215.92px;top:193.97px;width:25.13px;height:11.93px;line-height:12.22px;background:#18b76c">0.02%</div>
<div class="c" style="left:240.75px;top:193.97px;width:25.13px;height:11.93px;line-height:12.22px;background:#16b66c">0.01%</div>
<div class="c" style="left:265.58px;top:193.97px;width:25.13px;height:11.93px;line-height:12.22px;background:#16b66c">0.01%</div>
<div class="c" style="left:290.41px;top:193.97px;width:25.13px;height:11.93px;line-height:12.22px;background:#16b66c">0.01%</div>
</div>
<div class="ln" style="left:87.10px;top:19.10px;width:402.45px;height:1px"></div>
<div class="ln" style="left:87.10px;top:205.10px;width:402.45px;height:1px"></div>
<div class="ln" style="left:87.10px;top:19.10px;width:1px;height:187.00px"></div>
<div class="ln sep" style="left:265.08px;top:19.10px;width:1px;height:187.00px"></div>
<div class="ln sep" style="left:339.57px;top:19.10px;width:1px;height:187.00px"></div>
<div class="ln" style="left:488.55px;top:19.10px;width:1px;height:187.00px"></div>
<div class="yl" style="top:21.31px;left:50.60px">2.00</div>
<div class="ln" style="left:83.60px;top:30.73px;width:4px;height:1px"></div>
<div class="yl" style="top:32.94px;left:50.60px">1.75</div>
<div class="ln" style="left:83.60px;top:42.35px;width:4px;height:1px"></div>
<div class="yl" style="top:44.56px;left:50.60px">1.50</div>
<div class="ln" style="left:83.60px;top:53.98px;width:4px;height:1px"></div>
<div class="yl" style="top:56.19px;left:50.60px">1.25</div>
<div class="ln" style="left:83.60px;top:65.60px;width:4px;height:1px"></div>
<div class="yl" style="top:67.81px;left:50.60px">1.00</div>
<div class="ln" style="left:83.60px;top:77.22px;width:4px;height:1px"></div>
<div class="yl" style="top:79.44px;left:50.60px">0.75</div>
<div class="ln" style="left:83.60px;top:88.85px;width:4px;height:1px"></div>
<div class="yl" style="top:91.06px;left:50.60px">0.50</div>
<div class="ln" style="left:83.60px;top:100.47px;width:4px;height:1px"></div>
<div class="yl" style="top:102.69px;left:50.60px">0.25</div>
<div class="ln" style="left:83.60px;top:112.10px;width:4px;height:1px"></div>
<div class="yl" style="top:114.31px;left:50.60px">0.00</div>
<div class="ln" style="left:83.60px;top:123.72px;width:4px;height:1px"></div>
<div class="yl" style="top:125.94px;left:50.60px">−0.25</div>
<div class="ln" style="left:83.60px;top:135.35px;width:4px;height:1px"></div>
<div class="yl" style="top:137.56px;left:50.60px">−0.50</div>
<div class="ln" style="left:83.60px;top:146.97px;width:4px;height:1px"></div>
<div class="yl" style="top:149.19px;left:50.60px">−0.75</div>
<div class="ln" style="left:83.60px;top:158.60px;width:4px;height:1px"></div>
<div class="yl" style="top:160.81px;left:50.60px">−1.00</div>
<div class="ln" style="left:83.60px;top:170.22px;width:4px;height:1px"></div>
<div class="yl" style="top:172.44px;left:50.60px">−1.25</div>
<div class="ln" style="left:83.60px;top:181.85px;width:4px;height:1px"></div>
<div class="yl" style="top:184.06px;left:50.60px">−1.50</div>
<div class="ln" style="left:83.60px;top:193.47px;width:4px;height:1px"></div>
<div class="yl" style="top:195.69px;left:50.60px">−1.75</div>
<div class="xl" style="left:87.10px;top:211.80px">0</div>
<div class="ln" style="left:87.10px;top:205.60px;width:1px;height:5.5px"></div>
<div class="xl" style="left:114.01px;top:211.80px">10</div>
<div class="ln" style="left:116.10px;top:205.60px;width:1px;height:5.5px"></div>
<div class="xl" style="left:138.84px;top:211.80px">20</div>
<div class="ln" style="left:140.93px;top:205.60px;width:1px;height:5.5px"></div>
<div class="xl" style="left:163.67px;top:211.80px">30</div>
<div class="ln" style="left:165.76px;top:205.60px;width:1px;height:5.5px"></div>
<div class="xl" style="left:188.50px;top:211.80px">40</div>
<div class="ln" style="left:190.59px;top:205.60px;width:1px;height:5.5px"></div>
<div class="xl" style="left:213.33px;top:211.80px">50</div>
<div class="ln" style="left:215.42px;top:205.60px;width:1px;height:5.5px"></div>
<div class="xl" style="left:238.16px;top:211.80px">60</div>
<div class="ln" style="left:240.25px;top:205.60px;width:1px;height:5.5px"></div>
<div class="xl" style="left:263.00px;top:211.80px">70</div>
<div class="ln" style="left:265.08px;top:205.60px;width:1px;height:5.5px"></div>
<div class="xl" style="left:287.82px;top:211.80px">80</div>
<div class="ln" style="left:289.91px;top:205.60px;width:1px;height:5.5px"></div>
<div class="xl" style="left:312.65px;top:211.80px">90</div>
<div class="ln" style="left:314.74px;top:205.60px;width:1px;height:5.5px"></div>
<div class="xl" style="left:337.48px;top:211.80px">100</div>
<div class="ln" style="left:339.57px;top:205.60px;width:1px;height:5.5px"></div>
<div class="xl" style="left:362.31px;top:211.80px">110</div>
<div class="ln" style="left:364.40px;top:205.60px;width:1px;height:5.5px"></div>
<div class="xl" style="left:387.14px;top:211.80px">120</div>
<div class="ln" style="left:389.23px;top:205.60px;width:1px;height:5.5px"></div>
<div class="xl" style="left:411.97px;top:211.80px">130</div>
<div class="ln" style="left:414.06px;top:205.60px;width:1px;height:5.5px"></div>
<div class="xl" style="left:436.81px;top:211.80px">140</div>
<div class="ln" style="left:438.89px;top:205.60px;width:1px;height:5.5px"></div>
<div class="xl" style="left:461.63px;top:211.80px">150</div>
<div class="ln" style="left:463.72px;top:205.60px;width:1px;height:5.5px"></div>
<div class="ln" style="left:488.55px;top:205.60px;width:1px;height:5.5px"></div>
<div class="xt" style="left:248.32px;top:225.60px">v [km/h]</div>
<div class="yt" style="left:13.60px;top:106.60px">a [m/s<sup>2</sup>]</div>
<div class="lt" style="left:497.40px;top:7.70px">u<sub>i</sub> [%]</div>
<div style="position:absolute;left:529.40px;top:19.60px;width:16.60px;height:11.93px;background:#f8686b"></div>
<div class="ll" style="left:493.80px;top:23.01px">5.19%</div>
<div class="ln2" style="left:526.40px;top:30.73px;width:3px;height:1px"></div>
<div style="position:absolute;left:529.40px;top:31.23px;width:16.60px;height:11.93px;background:#f9736d"></div>
<div class="ll" style="left:493.80px;top:34.64px">4.84%</div>
<div class="ln2" style="left:526.40px;top:42.35px;width:3px;height:1px"></div>
<div style="position:absolute;left:529.40px;top:42.85px;width:16.60px;height:11.93px;background:#f97f6f"></div>
<div class="ll" style="left:493.80px;top:46.26px">4.49%</div>
<div class="ln2" style="left:526.40px;top:53.98px;width:3px;height:1px"></div>
<div style="position:absolute;left:529.40px;top:54.48px;width:16.60px;height:11.93px;background:#fa8a71"></div>
<div class="ll" style="left:493.80px;top:57.89px">4.15%</div>
<div class="ln2" style="left:526.40px;top:65.60px;width:3px;height:1px"></div>
<div style="position:absolute;left:529.40px;top:66.10px;width:16.60px;height:11.93px;background:#fa9673"></div>
<div class="ll" style="left:493.80px;top:69.51px">3.80%</div>
<div class="ln2" style="left:526.40px;top:77.22px;width:3px;height:1px"></div>
<div style="position:absolute;left:529.40px;top:77.72px;width:16.60px;height:11.93px;background:#fba175"></div>
<div class="ll" style="left:493.80px;top:81.14px">3.46%</div>
<div class="ln2" style="left:526.40px;top:88.85px;width:3px;height:1px"></div>
<div style="position:absolute;left:529.40px;top:89.35px;width:16.60px;height:11.93px;background:#fbad76"></div>
<div class="ll" style="left:493.80px;top:92.76px">3.11%</div>
<div class="ln2" style="left:526.40px;top:100.47px;width:3px;height:1px"></div>
<div style="position:absolute;left:529.40px;top:100.97px;width:16.60px;height:11.93px;background:#fcb878"></div>
<div class="ll" style="left:493.80px;top:104.39px">2.77%</div>
<div class="ln2" style="left:526.40px;top:112.10px;width:3px;height:1px"></div>
<div style="position:absolute;left:529.40px;top:112.60px;width:16.60px;height:11.93px;background:#fcc47a"></div>
<div class="ll" style="left:493.80px;top:116.01px">2.42%</div>
<div class="ln2" style="left:526.40px;top:123.72px;width:3px;height:1px"></div>
<div style="position:absolute;left:529.40px;top:124.22px;width:16.60px;height:11.93px;background:#fdcf7c"></div>
<div class="ll" style="left:493.80px;top:127.64px">2.08%</div>
<div class="ln2" style="left:526.40px;top:135.35px;width:3px;height:1px"></div>
<div style="position:absolute;left:529.40px;top:135.85px;width:16.60px;height:11.93px;background:#fddb7e"></div>
<div class="ll" style="left:493.80px;top:139.26px">1.73%</div>
<div class="ln2" style="left:526.40px;top:146.97px;width:3px;height:1px"></div>
<div style="position:absolute;left:529.40px;top:147.47px;width:16.60px;height:11.93px;background:#fee680"></div>
<div class="ll" style="left:493.80px;top:150.89px">1.39%</div>
<div class="ln2" style="left:526.40px;top:158.60px;width:3px;height:1px"></div>
<div style="position:absolute;left:529.40px;top:159.10px;width:16.60px;height:11.93px;background:#dde07a"></div>
<div class="ll" style="left:493.80px;top:162.51px">1.04%</div>
<div class="ln2" style="left:526.40px;top:170.22px;width:3px;height:1px"></div>
<div style="position:absolute;left:529.40px;top:170.72px;width:16.60px;height:11.93px;background:#9ad070"></div>
<div class="ll" style="left:493.80px;top:174.14px">0.69%</div>
<div class="ln2" style="left:526.40px;top:181.85px;width:3px;height:1px"></div>
<div style="position:absolute;left:529.40px;top:182.35px;width:16.60px;height:11.93px;background:#5cc470"></div>
<div class="ll" style="left:493.80px;top:185.76px">0.35%</div>
<div class="ln2" style="left:526.40px;top:193.47px;width:3px;height:1px"></div>
<div style="position:absolute;left:529.40px;top:193.97px;width:16.60px;height:11.93px;background:#18b86c"></div>
<div class="ll" style="left:493.80px;top:197.39px">0.00%</div>
<div class="ln2" style="left:526.40px;top:205.10px;width:3px;height:1px"></div>
<div class="lb" style="left:528.90px;top:19.10px;width:17.60px;height:187.20px"></div>
<div class="br" style="left:436.9px;top:24.9px;width:49.6px;height:23.6px;line-height:24.1px"><span class="bt2" style="margin-left:-2.0px">RDE</span></div>
<svg class="pm" style="left:447.62px;top:155.06px" width="38.1" height="44.8" viewBox="-4 -2 34 40">
<path d="M0.8 1.6 Q0.8 0.6 1.8 0.6 L18.8 0.6 Q19.8 0.6 19.8 1.6 L19.8 35 L0.8 35 Z" fill="#1290e8" stroke="#0b3796" stroke-width="1.6"/>
<rect x="3.4" y="3.6" width="13.8" height="9.0" fill="#fff" stroke="#0b3796" stroke-width="0.8"/>
<path d="M10.3 19.0 C8.4 22.4 6.4 24.8 6.4 27.2 A3.9 3.9 0 0 0 14.2 27.2 C14.2 24.8 12.2 22.4 10.3 19.0 Z" fill="#fff" stroke="#0b3796" stroke-width="0.9"/>
<path d="M-3.2 35.6 L22.6 35.6" stroke="#0b3796" stroke-width="1.8" stroke-linecap="round"/>
<path d="M20 19.4 L21.3 19.4 Q23 19.4 23 21.2 L23 25.8 Q23 28.4 25.3 28.4 Q27.6 28.4 27.6 25.8 L27.6 11.2" fill="none" stroke="#0b3796" stroke-width="1.25"/>
<path d="M22.8 2.8 Q27.8 6.6 27.6 12.6" fill="none" stroke="#0b3796" stroke-width="1.9" stroke-linecap="round"/>
<circle cx="25.1" cy="11.2" r="1.9" fill="#fff" stroke="#0b3796" stroke-width="1.3"/>
</svg>
</div>
<div class="cap" style="left:3.2px;top:229.9px">(<b>b</b>)</div>
<div class="cap" style="left:6.4px;top:726.6px">(<b>c</b>)</div>
</body></html>
